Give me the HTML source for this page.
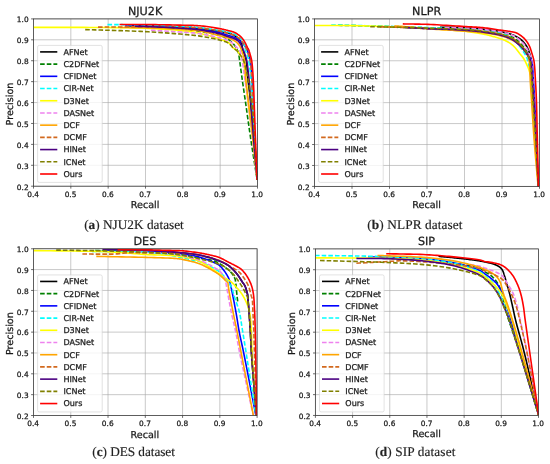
<!DOCTYPE html>
<html lang="en"><head><meta charset="utf-8"><title>PR curves</title>
<style>html,body{margin:0;padding:0;background:#fff}svg{display:block}
svg text{font-family:"DejaVu Sans","Liberation Sans",sans-serif;text-rendering:geometricPrecision;stroke:#1a1a1a;stroke-width:0.25px}
svg text.cap{font-family:"Liberation Serif","DejaVu Serif",serif;font-size:13.3px;fill:#222;stroke:#222;stroke-width:0.15px}
</style></head><body>
<svg width="550" height="464" viewBox="0 0 550 464">
<rect width="550" height="464" fill="#fff"/>
<g class="panel" id="panel-a">
<clipPath id="clip-a"><rect x="33.5" y="18.9" width="224" height="167.3"/></clipPath>
<path d="M33.5 18.9V186.2M70.83 18.9V186.2M108.17 18.9V186.2M145.5 18.9V186.2M182.83 18.9V186.2M220.17 18.9V186.2M257.5 18.9V186.2M33.5 18.9H257.5M33.5 39.81H257.5M33.5 60.72H257.5M33.5 81.64H257.5M33.5 102.55H257.5M33.5 123.46H257.5M33.5 144.38H257.5M33.5 165.29H257.5M33.5 186.2H257.5" stroke="#a4a4a4" stroke-width="0.6" fill="none"/>
<g clip-path="url(#clip-a)" fill="none" stroke-width="1.6" stroke-linejoin="round">
<path d="M128 25.6L129.4 25.61L130.76 25.63L132.09 25.63L133.42 25.64L134.74 25.65L136.08 25.66L137.44 25.67L138.84 25.69L140.28 25.7L141.78 25.73L143.35 25.76L145 25.8L147.68 25.87L150.61 25.96L153.75 26.06L157.04 26.17L160.44 26.29L163.89 26.42L167.34 26.55L170.74 26.7L174.04 26.84L177.18 26.99L180.12 27.15L182.8 27.3L184.47 27.4L186.04 27.5L187.55 27.6L188.99 27.71L190.39 27.81L191.76 27.92L193.1 28.03L194.44 28.15L195.79 28.27L197.15 28.4L198.55 28.55L200 28.7L201.6 28.88L203.26 29.07L204.96 29.27L206.67 29.48L208.4 29.71L210.12 29.93L211.82 30.16L213.47 30.4L215.08 30.63L216.61 30.86L218.05 31.08L219.4 31.3L220.25 31.44L221.06 31.57L221.84 31.7L222.59 31.83L223.32 31.96L224.03 32.09L224.72 32.22L225.39 32.36L226.05 32.5L226.71 32.66L227.35 32.82L228 33L228.55 33.16L229.09 33.32L229.62 33.49L230.14 33.66L230.65 33.84L231.15 34.02L231.65 34.21L232.14 34.41L232.61 34.62L233.08 34.83L233.55 35.06L234 35.3L234.42 35.53L234.83 35.77L235.24 36.02L235.64 36.27L236.03 36.53L236.42 36.8L236.79 37.08L237.16 37.36L237.51 37.66L237.86 37.96L238.19 38.28L238.5 38.6L238.79 38.92L239.07 39.25L239.34 39.58L239.6 39.92L239.85 40.28L240.08 40.64L240.31 41L240.53 41.38L240.73 41.77L240.93 42.17L241.12 42.58L241.3 43L241.49 43.52L241.66 44.08L241.8 44.66L241.93 45.26L242.04 45.88L242.15 46.5L242.25 47.13L242.34 47.74L242.44 48.35L242.55 48.93L242.67 49.48L242.8 50L242.91 50.37L243.02 50.72L243.13 51.06L243.25 51.38L243.36 51.7L243.48 52.01L243.6 52.32L243.72 52.63L243.84 52.95L243.96 53.29L244.08 53.63L244.2 54L244.36 54.49L244.53 54.97L244.7 55.47L244.88 55.97L245.05 56.48L245.23 57.01L245.4 57.56L245.58 58.13L245.74 58.73L245.9 59.35L246.06 60.01L246.2 60.7L246.42 61.95L246.6 63.32L246.77 64.8L246.92 66.37L247.06 68L247.19 69.69L247.31 71.42L247.43 73.17L247.56 74.91L247.69 76.65L247.84 78.35L248 80L248.18 81.63L248.37 83.23L248.56 84.8L248.76 86.37L248.96 87.94L249.17 89.52L249.37 91.13L249.58 92.77L249.79 94.47L250 96.24L250.2 98.07L250.4 100L250.69 102.97L250.97 106.13L251.25 109.46L251.53 112.93L251.81 116.51L252.09 120.17L252.38 123.87L252.66 127.58L252.94 131.29L253.22 134.94L253.51 138.52L253.8 142L254.08 145.23L254.36 148.44L254.64 151.63L254.92 154.81L255.21 157.97L255.49 161.12L255.78 164.26L256.06 167.4L256.35 170.54L256.63 173.69L256.92 176.84L257.2 180" stroke="#000000"/>
<path d="M130 27L131.23 27.01L132.42 27.02L133.59 27.03L134.75 27.04L135.91 27.05L137.08 27.05L138.27 27.07L139.5 27.08L140.77 27.1L142.11 27.12L143.51 27.16L145 27.2L147.6 27.28L150.48 27.37L153.59 27.47L156.88 27.58L160.28 27.71L163.75 27.85L167.23 28L170.66 28.17L173.99 28.35L177.16 28.55L180.11 28.77L182.8 29L184.47 29.17L186.05 29.34L187.56 29.53L189 29.72L190.4 29.92L191.77 30.12L193.11 30.33L194.45 30.55L195.79 30.78L197.16 31.01L198.55 31.25L200 31.5L201.6 31.77L203.27 32.04L204.97 32.32L206.69 32.6L208.42 32.89L210.15 33.19L211.84 33.5L213.5 33.83L215.1 34.17L216.63 34.53L218.07 34.9L219.4 35.3L220.26 35.58L221.09 35.87L221.89 36.17L222.66 36.47L223.41 36.78L224.12 37.1L224.82 37.43L225.49 37.76L226.14 38.11L226.78 38.46L227.4 38.82L228 39.2L228.49 39.52L228.96 39.85L229.42 40.19L229.87 40.53L230.29 40.88L230.71 41.23L231.12 41.6L231.51 41.96L231.89 42.34L232.27 42.72L232.64 43.11L233 43.5L233.34 43.89L233.67 44.28L234 44.69L234.31 45.1L234.62 45.52L234.91 45.95L235.2 46.37L235.48 46.8L235.75 47.23L236.01 47.66L236.26 48.08L236.5 48.5L236.71 48.88L236.91 49.25L237.11 49.63L237.3 50.01L237.48 50.4L237.66 50.78L237.82 51.15L237.98 51.53L238.12 51.9L238.26 52.27L238.39 52.64L238.5 53L238.59 53.3L238.66 53.6L238.72 53.9L238.77 54.19L238.82 54.48L238.86 54.77L238.9 55.06L238.94 55.34L238.97 55.63L239.01 55.92L239.05 56.21L239.1 56.5L239.37 58.46L239.63 60.44L239.9 62.42L240.17 64.4L240.44 66.39L240.7 68.37L240.97 70.34L241.24 72.31L241.5 74.26L241.77 76.19L242.04 78.11L242.3 80L242.54 81.7L242.77 83.34L243 84.94L243.23 86.52L243.46 88.08L243.69 89.64L243.92 91.23L244.16 92.85L244.4 94.52L244.66 96.26L244.92 98.08L245.2 100L245.62 102.97L246.07 106.13L246.54 109.47L247.03 112.94L247.53 116.52L248.05 120.17L248.57 123.87L249.1 127.59L249.63 131.29L250.16 134.95L250.68 138.53L251.2 142L251.69 145.23L252.18 148.45L252.68 151.64L253.18 154.81L253.68 157.97L254.18 161.12L254.69 164.27L255.19 167.41L255.69 170.55L256.2 173.69L256.7 176.84L257.2 180" stroke="#008000" stroke-dasharray="4.6 2.05"/>
<path d="M125 26L126.65 26.02L128.26 26.04L129.85 26.06L131.43 26.08L133.01 26.09L134.61 26.11L136.22 26.13L137.87 26.15L139.56 26.18L141.3 26.21L143.11 26.25L145 26.3L147.78 26.38L150.78 26.46L153.96 26.56L157.26 26.66L160.65 26.77L164.08 26.9L167.49 27.03L170.85 27.16L174.11 27.31L177.22 27.47L180.13 27.63L182.8 27.8L184.47 27.92L186.05 28.04L187.55 28.15L189 28.28L190.4 28.4L191.76 28.53L193.11 28.67L194.45 28.81L195.79 28.97L197.16 29.13L198.55 29.31L200 29.5L201.6 29.72L203.26 29.96L204.96 30.21L206.68 30.47L208.41 30.74L210.13 31.02L211.83 31.31L213.48 31.61L215.08 31.9L216.61 32.2L218.06 32.5L219.4 32.8L220.25 33L221.06 33.21L221.84 33.41L222.59 33.62L223.32 33.83L224.03 34.04L224.71 34.26L225.38 34.47L226.05 34.68L226.7 34.89L227.35 35.1L228 35.3L228.54 35.47L229.08 35.63L229.6 35.79L230.12 35.95L230.63 36.1L231.13 36.26L231.62 36.42L232.11 36.58L232.59 36.75L233.07 36.92L233.54 37.11L234 37.3L234.42 37.48L234.84 37.67L235.24 37.85L235.65 38.04L236.05 38.24L236.44 38.44L236.83 38.65L237.21 38.86L237.59 39.08L237.96 39.31L238.33 39.55L238.7 39.8L239.07 40.07L239.44 40.35L239.8 40.64L240.16 40.94L240.51 41.25L240.86 41.57L241.2 41.89L241.54 42.21L241.86 42.53L242.19 42.86L242.5 43.18L242.8 43.5L243.07 43.79L243.33 44.07L243.58 44.37L243.83 44.66L244.08 44.95L244.32 45.24L244.55 45.54L244.77 45.83L244.99 46.13L245.2 46.42L245.41 46.71L245.6 47L245.76 47.25L245.92 47.5L246.06 47.74L246.21 47.98L246.34 48.22L246.47 48.47L246.6 48.71L246.73 48.96L246.85 49.21L246.97 49.47L247.08 49.73L247.2 50L247.33 50.31L247.44 50.61L247.56 50.93L247.67 51.24L247.77 51.56L247.87 51.89L247.97 52.22L248.07 52.56L248.18 52.91L248.28 53.26L248.39 53.63L248.5 54L248.65 54.49L248.81 54.97L248.97 55.47L249.14 55.97L249.31 56.48L249.48 57.01L249.65 57.56L249.81 58.13L249.97 58.73L250.12 59.35L250.27 60.01L250.4 60.7L250.6 61.95L250.78 63.32L250.94 64.8L251.08 66.37L251.2 68L251.32 69.69L251.42 71.42L251.52 73.16L251.62 74.91L251.71 76.64L251.8 78.35L251.9 80L252 81.63L252.08 83.23L252.16 84.8L252.23 86.37L252.3 87.94L252.36 89.52L252.43 91.13L252.49 92.78L252.56 94.48L252.63 96.24L252.71 98.08L252.8 100L252.94 102.97L253.09 106.13L253.25 109.47L253.42 112.94L253.59 116.52L253.77 120.17L253.95 123.87L254.14 127.59L254.33 131.29L254.52 134.94L254.71 138.52L254.9 142L255.08 145.23L255.27 148.44L255.45 151.63L255.64 154.81L255.84 157.97L256.03 161.12L256.23 164.26L256.42 167.4L256.62 170.54L256.81 173.69L257.01 176.84L257.2 180" stroke="#0000ff"/>
<path d="M107.5 24.6L108.95 24.61L110.4 24.61L111.85 24.62L113.29 24.62L114.73 24.63L116.18 24.63L117.63 24.64L119.08 24.65L120.54 24.66L122.02 24.67L123.5 24.68L125 24.7L126.6 24.72L128.18 24.74L129.76 24.77L131.33 24.79L132.92 24.82L134.52 24.85L136.15 24.89L137.82 24.92L139.53 24.96L141.29 25L143.11 25.05L145 25.1L147.78 25.18L150.78 25.26L153.96 25.35L157.26 25.45L160.65 25.55L164.07 25.66L167.49 25.77L170.85 25.89L174.11 26.01L177.21 26.14L180.13 26.27L182.8 26.4L184.47 26.49L186.04 26.57L187.55 26.65L188.99 26.73L190.39 26.81L191.76 26.9L193.1 26.99L194.44 27.09L195.79 27.2L197.16 27.32L198.55 27.45L200 27.6L201.6 27.78L203.26 27.98L204.96 28.2L206.68 28.43L208.4 28.67L210.12 28.92L211.82 29.18L213.47 29.43L215.08 29.68L216.61 29.93L218.05 30.17L219.4 30.4L220.24 30.54L221.05 30.68L221.83 30.82L222.58 30.95L223.3 31.08L224 31.21L224.69 31.34L225.36 31.48L226.03 31.62L226.68 31.77L227.34 31.93L228 32.1L228.58 32.26L229.15 32.41L229.72 32.57L230.28 32.73L230.83 32.89L231.37 33.06L231.91 33.24L232.44 33.43L232.96 33.62L233.48 33.83L233.99 34.06L234.5 34.3L234.99 34.55L235.49 34.81L235.98 35.09L236.46 35.38L236.94 35.67L237.42 35.98L237.88 36.3L238.33 36.62L238.77 36.96L239.2 37.3L239.61 37.64L240 38L240.35 38.33L240.69 38.67L241.03 39.01L241.35 39.36L241.66 39.71L241.96 40.07L242.25 40.45L242.52 40.83L242.79 41.22L243.04 41.63L243.28 42.06L243.5 42.5L243.73 43.05L243.94 43.64L244.12 44.26L244.27 44.91L244.41 45.58L244.54 46.25L244.66 46.92L244.77 47.59L244.89 48.24L245.01 48.86L245.15 49.45L245.3 50L245.42 50.38L245.54 50.73L245.67 51.07L245.79 51.39L245.92 51.71L246.04 52.02L246.17 52.32L246.3 52.64L246.42 52.95L246.55 53.29L246.67 53.63L246.8 54L246.96 54.48L247.12 54.97L247.28 55.46L247.45 55.97L247.61 56.48L247.77 57.01L247.93 57.56L248.09 58.13L248.25 58.73L248.4 59.35L248.55 60.01L248.7 60.7L248.94 61.95L249.17 63.33L249.39 64.8L249.61 66.37L249.82 68L250.02 69.69L250.21 71.42L250.4 73.16L250.59 74.91L250.76 76.64L250.94 78.35L251.1 80L251.26 81.63L251.4 83.22L251.54 84.8L251.67 86.36L251.79 87.93L251.91 89.52L252.02 91.12L252.13 92.77L252.25 94.47L252.36 96.24L252.48 98.07L252.6 100L252.78 102.97L252.96 106.13L253.14 109.47L253.32 112.94L253.5 116.51L253.68 120.17L253.86 123.87L254.04 127.59L254.23 131.29L254.41 134.94L254.6 138.52L254.8 142L254.99 145.23L255.18 148.44L255.38 151.63L255.58 154.81L255.78 157.97L255.98 161.12L256.18 164.26L256.39 167.4L256.59 170.54L256.8 173.69L257 176.84L257.2 180" stroke="#00ffff" stroke-dasharray="4.6 2.05"/>
<path d="M33 27.4L38.63 27.41L44.32 27.41L50.06 27.41L55.83 27.4L61.59 27.4L67.33 27.4L73.03 27.4L78.65 27.41L84.18 27.42L89.6 27.44L94.88 27.46L100 27.5L104.08 27.53L108.06 27.56L111.97 27.58L115.81 27.61L119.58 27.64L123.31 27.68L126.98 27.72L130.62 27.78L134.24 27.86L137.83 27.95L141.42 28.06L145 28.2L148.31 28.35L151.66 28.51L155.03 28.68L158.4 28.87L161.74 29.08L165.03 29.29L168.27 29.52L171.42 29.75L174.47 30L177.4 30.26L180.18 30.53L182.8 30.8L184.47 30.98L186.05 31.17L187.56 31.34L189.01 31.52L190.41 31.71L191.78 31.9L193.12 32.11L194.46 32.32L195.8 32.56L197.17 32.81L198.56 33.09L200 33.4L201.61 33.77L203.27 34.18L204.97 34.62L206.69 35.08L208.42 35.57L210.14 36.07L211.84 36.58L213.49 37.09L215.09 37.59L216.62 38.08L218.06 38.55L219.4 39L220.26 39.29L221.11 39.57L221.94 39.84L222.74 40.11L223.52 40.38L224.27 40.65L224.99 40.91L225.68 41.18L226.33 41.45L226.93 41.73L227.49 42.01L228 42.3L228.28 42.48L228.54 42.65L228.78 42.83L229 43L229.21 43.18L229.41 43.36L229.6 43.54L229.78 43.72L229.96 43.91L230.14 44.1L230.32 44.3L230.5 44.5L230.68 44.71L230.85 44.94L231.01 45.17L231.16 45.4L231.3 45.64L231.45 45.89L231.6 46.13L231.76 46.37L231.92 46.61L232.1 46.85L232.29 47.08L232.5 47.3L232.79 47.56L233.12 47.82L233.47 48.06L233.84 48.3L234.22 48.54L234.61 48.77L235.01 49.01L235.4 49.25L235.78 49.49L236.14 49.75L236.49 50.02L236.8 50.3L237.07 50.57L237.32 50.85L237.56 51.13L237.79 51.42L238.01 51.71L238.22 52.02L238.43 52.32L238.64 52.64L238.84 52.96L239.06 53.3L239.27 53.64L239.5 54L239.81 54.47L240.12 54.94L240.45 55.43L240.78 55.92L241.11 56.43L241.44 56.95L241.77 57.5L242.09 58.08L242.39 58.68L242.68 59.32L242.95 59.99L243.2 60.7L243.55 61.94L243.84 63.3L244.09 64.77L244.3 66.34L244.47 67.97L244.63 69.67L244.77 71.4L244.9 73.15L245.03 74.9L245.17 76.64L245.32 78.35L245.5 80L245.69 81.63L245.87 83.23L246.05 84.8L246.23 86.37L246.41 87.94L246.59 89.52L246.77 91.13L246.96 92.78L247.15 94.48L247.36 96.24L247.57 98.08L247.8 100L248.16 102.97L248.55 106.13L248.96 109.47L249.4 112.94L249.85 116.51L250.31 120.17L250.78 123.87L251.24 127.58L251.7 131.28L252.15 134.94L252.59 138.52L253 142L253.38 145.23L253.74 148.44L254.1 151.63L254.45 154.81L254.8 157.97L255.15 161.12L255.49 164.26L255.83 167.4L256.17 170.54L256.51 173.69L256.85 176.84L257.2 180" stroke="#ffff00"/>
<path d="M151 30.2L153.68 30.37L156.41 30.53L159.18 30.7L161.96 30.87L164.74 31.03L167.51 31.2L170.24 31.36L172.92 31.53L175.53 31.7L178.06 31.86L180.49 32.03L182.8 32.2L184.41 32.32L185.96 32.42L187.45 32.52L188.89 32.62L190.3 32.71L191.67 32.81L193.04 32.91L194.4 33.03L195.76 33.17L197.14 33.32L198.55 33.5L200 33.7L201.61 33.95L203.27 34.24L204.97 34.55L206.69 34.88L208.41 35.23L210.13 35.6L211.83 35.97L213.48 36.35L215.08 36.72L216.61 37.09L218.06 37.45L219.4 37.8L220.26 38.03L221.09 38.25L221.9 38.47L222.68 38.69L223.44 38.91L224.18 39.13L224.89 39.35L225.57 39.58L226.22 39.8L226.84 40.03L227.44 40.26L228 40.5L228.36 40.66L228.69 40.82L229.01 40.97L229.32 41.13L229.61 41.28L229.9 41.44L230.17 41.6L230.44 41.77L230.7 41.94L230.97 42.12L231.23 42.31L231.5 42.5L231.77 42.71L232.03 42.92L232.29 43.15L232.54 43.38L232.79 43.61L233.03 43.86L233.28 44.1L233.52 44.34L233.76 44.59L234 44.83L234.25 45.07L234.5 45.3L234.75 45.53L235 45.75L235.26 45.98L235.52 46.2L235.77 46.43L236.03 46.65L236.29 46.88L236.54 47.1L236.79 47.32L237.03 47.55L237.27 47.77L237.5 48L237.71 48.2L237.92 48.41L238.13 48.6L238.34 48.8L238.55 49L238.75 49.2L238.94 49.4L239.13 49.6L239.31 49.82L239.49 50.03L239.65 50.26L239.8 50.5L239.94 50.76L240.07 51.02L240.19 51.28L240.3 51.55L240.4 51.83L240.49 52.12L240.58 52.41L240.66 52.71L240.74 53.02L240.83 53.34L240.91 53.66L241 54L241.12 54.47L241.24 54.95L241.35 55.44L241.45 55.94L241.56 56.45L241.66 56.99L241.76 57.55L241.86 58.12L241.97 58.73L242.07 59.35L242.19 60.01L242.3 60.7L242.5 61.96L242.71 63.33L242.93 64.81L243.15 66.38L243.38 68.01L243.61 69.7L243.84 71.43L244.07 73.17L244.31 74.92L244.54 76.65L244.77 78.35L245 80L245.23 81.63L245.46 83.23L245.68 84.8L245.91 86.37L246.13 87.94L246.36 89.52L246.58 91.13L246.82 92.77L247.05 94.47L247.3 96.24L247.54 98.07L247.8 100L248.19 102.97L248.6 106.13L249.02 109.46L249.46 112.93L249.91 116.51L250.37 120.16L250.82 123.87L251.28 127.58L251.72 131.28L252.16 134.94L252.59 138.52L253 142L253.38 145.23L253.74 148.44L254.1 151.63L254.45 154.81L254.8 157.97L255.15 161.12L255.49 164.26L255.83 167.4L256.17 170.54L256.51 173.69L256.85 176.84L257.2 180" stroke="#ee82ee" stroke-dasharray="4.6 2.05"/>
<path d="M120 27.5L122.07 27.52L124.11 27.54L126.13 27.55L128.14 27.56L130.16 27.58L132.18 27.59L134.22 27.61L136.29 27.63L138.39 27.66L140.54 27.69L142.74 27.74L145 27.8L147.92 27.89L151.02 27.99L154.25 28.11L157.57 28.23L160.94 28.37L164.33 28.52L167.7 28.67L171 28.83L174.2 29L177.26 29.16L180.14 29.33L182.8 29.5L184.47 29.61L186.05 29.7L187.55 29.79L189 29.88L190.4 29.97L191.77 30.06L193.12 30.17L194.45 30.29L195.8 30.43L197.16 30.59L198.56 30.78L200 31L201.61 31.28L203.27 31.6L204.97 31.96L206.69 32.36L208.41 32.77L210.13 33.19L211.82 33.63L213.48 34.05L215.08 34.48L216.61 34.88L218.05 35.26L219.4 35.6L220.25 35.81L221.07 36.02L221.86 36.21L222.63 36.41L223.38 36.59L224.1 36.78L224.8 36.96L225.48 37.14L226.13 37.33L226.77 37.51L227.4 37.7L228 37.9L228.43 38.04L228.85 38.19L229.25 38.33L229.64 38.47L230.01 38.61L230.38 38.75L230.74 38.89L231.1 39.04L231.45 39.19L231.8 39.35L232.15 39.52L232.5 39.7L232.84 39.88L233.19 40.06L233.53 40.25L233.86 40.44L234.2 40.64L234.53 40.84L234.85 41.05L235.17 41.26L235.49 41.49L235.8 41.72L236.1 41.95L236.4 42.2L236.7 42.46L236.99 42.73L237.28 43.01L237.57 43.3L237.85 43.59L238.13 43.89L238.4 44.2L238.66 44.51L238.91 44.83L239.15 45.15L239.38 45.47L239.6 45.8L239.8 46.13L239.99 46.46L240.17 46.8L240.34 47.15L240.5 47.5L240.65 47.86L240.8 48.22L240.95 48.58L241.09 48.94L241.22 49.29L241.36 49.65L241.5 50L241.63 50.33L241.76 50.66L241.88 50.98L242 51.29L242.12 51.61L242.23 51.93L242.34 52.26L242.45 52.59L242.56 52.92L242.67 53.27L242.79 53.63L242.9 54L243.05 54.48L243.2 54.97L243.35 55.46L243.5 55.97L243.65 56.48L243.8 57.01L243.95 57.56L244.09 58.13L244.23 58.73L244.36 59.35L244.48 60.01L244.6 60.7L244.77 61.95L244.92 63.33L245.04 64.81L245.14 66.37L245.23 68.01L245.31 69.7L245.39 71.42L245.47 73.17L245.55 74.92L245.65 76.65L245.76 78.35L245.9 80L246.05 81.63L246.21 83.23L246.38 84.81L246.56 86.37L246.74 87.94L246.93 89.52L247.12 91.13L247.32 92.78L247.53 94.48L247.75 96.24L247.97 98.08L248.2 100L248.56 102.97L248.94 106.13L249.35 109.47L249.78 112.94L250.23 116.51L250.68 120.17L251.14 123.87L251.6 127.58L252.05 131.28L252.48 134.94L252.9 138.52L253.3 142L253.66 145.23L254 148.44L254.34 151.63L254.67 154.8L254.99 157.97L255.31 161.12L255.62 164.26L255.93 167.4L256.25 170.54L256.56 173.69L256.88 176.84L257.2 180" stroke="#ffa500"/>
<path d="M98 27.1L101.93 27.08L105.89 27.06L109.87 27.04L113.86 27.01L117.84 26.99L121.82 26.96L125.78 26.94L129.71 26.92L133.61 26.91L137.46 26.9L141.26 26.9L145 26.9L148.34 26.91L151.71 26.91L155.08 26.91L158.45 26.92L161.79 26.93L165.08 26.94L168.3 26.96L171.44 26.99L174.48 27.03L177.4 27.07L180.18 27.13L182.8 27.2L184.46 27.25L186.04 27.3L187.55 27.35L188.99 27.4L190.39 27.45L191.76 27.51L193.11 27.58L194.44 27.66L195.79 27.74L197.16 27.85L198.55 27.96L200 28.1L201.6 28.26L203.26 28.44L204.96 28.64L206.68 28.85L208.41 29.07L210.13 29.3L211.83 29.55L213.48 29.8L215.09 30.07L216.62 30.34L218.06 30.62L219.4 30.9L220.25 31.1L221.06 31.3L221.84 31.52L222.58 31.74L223.3 31.96L224 32.18L224.69 32.41L225.36 32.64L226.02 32.86L226.68 33.08L227.34 33.29L228 33.5L228.58 33.67L229.15 33.83L229.72 33.98L230.28 34.13L230.83 34.27L231.38 34.42L231.92 34.57L232.46 34.73L232.98 34.9L233.5 35.08L234 35.28L234.5 35.5L234.96 35.72L235.41 35.96L235.85 36.2L236.29 36.45L236.72 36.72L237.14 36.99L237.56 37.27L237.96 37.56L238.36 37.86L238.75 38.16L239.13 38.48L239.5 38.8L239.85 39.13L240.2 39.47L240.54 39.82L240.86 40.18L241.18 40.56L241.5 40.93L241.8 41.31L242.1 41.7L242.38 42.08L242.66 42.46L242.94 42.83L243.2 43.2L243.42 43.52L243.64 43.84L243.85 44.16L244.06 44.49L244.25 44.81L244.44 45.13L244.63 45.45L244.81 45.76L244.99 46.08L245.16 46.39L245.33 46.7L245.5 47L245.64 47.26L245.78 47.51L245.92 47.76L246.05 48L246.17 48.24L246.3 48.48L246.42 48.73L246.54 48.97L246.66 49.22L246.77 49.47L246.89 49.73L247 50L247.12 50.31L247.24 50.62L247.35 50.93L247.46 51.24L247.56 51.57L247.67 51.89L247.77 52.22L247.87 52.56L247.97 52.91L248.08 53.26L248.19 53.63L248.3 54L248.45 54.49L248.61 54.97L248.77 55.47L248.94 55.97L249.11 56.48L249.28 57.01L249.45 57.56L249.61 58.13L249.77 58.73L249.92 59.35L250.07 60.01L250.2 60.7L250.4 61.95L250.59 63.32L250.75 64.8L250.9 66.37L251.04 68L251.17 69.69L251.28 71.42L251.39 73.16L251.5 74.91L251.6 76.64L251.7 78.35L251.8 80L251.9 81.63L251.99 83.23L252.07 84.8L252.14 86.37L252.2 87.94L252.27 89.52L252.33 91.13L252.39 92.78L252.46 94.48L252.53 96.24L252.61 98.08L252.7 100L252.84 102.97L252.99 106.13L253.15 109.47L253.31 112.94L253.49 116.52L253.66 120.17L253.85 123.87L254.03 127.59L254.22 131.29L254.41 134.94L254.61 138.53L254.8 142L254.99 145.23L255.18 148.44L255.37 151.63L255.57 154.81L255.77 157.97L255.98 161.12L256.18 164.26L256.39 167.4L256.59 170.54L256.8 173.69L257 176.84L257.2 180" stroke="#d2691e" stroke-dasharray="4.6 2.05"/>
<path d="M135 26.3L135.81 26.31L136.59 26.33L137.35 26.34L138.1 26.35L138.84 26.36L139.6 26.37L140.38 26.38L141.19 26.39L142.05 26.41L142.96 26.44L143.94 26.46L145 26.5L147.35 26.59L150.07 26.69L153.09 26.82L156.35 26.96L159.78 27.12L163.31 27.29L166.87 27.47L170.39 27.65L173.82 27.84L177.07 28.03L180.09 28.22L182.8 28.4L184.47 28.52L186.05 28.63L187.55 28.74L189 28.84L190.4 28.95L191.76 29.07L193.11 29.19L194.45 29.32L195.79 29.46L197.16 29.62L198.56 29.8L200 30L201.61 30.24L203.27 30.5L204.96 30.79L206.69 31.09L208.41 31.41L210.13 31.74L211.83 32.08L213.49 32.42L215.09 32.77L216.62 33.12L218.06 33.46L219.4 33.8L220.25 34.03L221.07 34.26L221.85 34.5L222.61 34.74L223.34 34.98L224.05 35.23L224.74 35.47L225.41 35.71L226.07 35.94L226.72 36.17L227.36 36.39L228 36.6L228.5 36.76L229 36.91L229.48 37.06L229.96 37.2L230.43 37.34L230.88 37.48L231.34 37.62L231.78 37.76L232.22 37.91L232.65 38.06L233.08 38.22L233.5 38.4L233.88 38.56L234.26 38.73L234.63 38.9L235 39.07L235.36 39.24L235.72 39.42L236.07 39.61L236.41 39.8L236.75 40.01L237.07 40.23L237.39 40.46L237.7 40.7L238 40.96L238.29 41.23L238.58 41.52L238.85 41.82L239.11 42.12L239.37 42.44L239.62 42.76L239.87 43.1L240.11 43.44L240.34 43.79L240.57 44.14L240.8 44.5L241.05 44.91L241.28 45.35L241.51 45.8L241.74 46.26L241.95 46.74L242.16 47.22L242.36 47.7L242.56 48.18L242.75 48.65L242.94 49.11L243.12 49.57L243.3 50L243.44 50.35L243.58 50.69L243.71 51.01L243.84 51.34L243.96 51.65L244.09 51.97L244.2 52.28L244.32 52.61L244.44 52.94L244.56 53.28L244.68 53.63L244.8 54L244.96 54.48L245.12 54.97L245.28 55.46L245.45 55.97L245.61 56.48L245.77 57.01L245.93 57.56L246.09 58.13L246.25 58.73L246.4 59.35L246.55 60.01L246.7 60.7L246.94 61.95L247.17 63.33L247.39 64.8L247.61 66.37L247.82 68L248.02 69.69L248.21 71.42L248.4 73.16L248.59 74.91L248.76 76.64L248.94 78.35L249.1 80L249.26 81.63L249.4 83.23L249.53 84.8L249.65 86.37L249.76 87.93L249.87 89.52L249.98 91.13L250.09 92.78L250.21 94.47L250.33 96.24L250.46 98.08L250.6 100L250.82 102.97L251.06 106.13L251.31 109.47L251.56 112.94L251.83 116.52L252.1 120.17L252.38 123.87L252.66 127.59L252.94 131.29L253.23 134.94L253.52 138.53L253.8 142L254.07 145.23L254.35 148.44L254.63 151.64L254.91 154.81L255.19 157.97L255.48 161.12L255.77 164.26L256.05 167.4L256.34 170.55L256.63 173.69L256.92 176.84L257.2 180" stroke="#4b0082"/>
<path d="M85.2 29.6L90.23 29.76L95.33 29.92L100.47 30.06L105.64 30.21L110.81 30.35L115.96 30.5L121.05 30.66L126.08 30.82L131.01 30.99L135.83 31.18L140.5 31.38L145 31.6L148.5 31.79L151.97 31.99L155.41 32.21L158.79 32.43L162.11 32.66L165.36 32.89L168.53 33.13L171.61 33.37L174.59 33.6L177.45 33.84L180.19 34.07L182.8 34.3L184.47 34.44L186.05 34.58L187.55 34.71L189 34.84L190.4 34.96L191.76 35.09L193.11 35.22L194.45 35.37L195.79 35.53L197.16 35.7L198.56 35.89L200 36.1L201.61 36.35L203.27 36.63L204.96 36.92L206.69 37.23L208.41 37.56L210.13 37.89L211.83 38.24L213.49 38.59L215.09 38.95L216.62 39.3L218.06 39.65L219.4 40L220.26 40.23L221.1 40.46L221.92 40.69L222.72 40.92L223.49 41.15L224.23 41.38L224.94 41.61L225.63 41.85L226.28 42.1L226.89 42.36L227.46 42.62L228 42.9L228.32 43.08L228.62 43.27L228.91 43.46L229.17 43.65L229.42 43.85L229.66 44.04L229.89 44.24L230.11 44.45L230.33 44.65L230.55 44.87L230.77 45.08L231 45.3L231.22 45.53L231.44 45.76L231.65 46L231.85 46.25L232.05 46.5L232.24 46.76L232.44 47.01L232.64 47.26L232.85 47.51L233.06 47.75L233.27 47.98L233.5 48.2L233.74 48.41L233.99 48.61L234.24 48.8L234.5 48.98L234.77 49.16L235.03 49.33L235.3 49.51L235.57 49.69L235.83 49.88L236.1 50.07L236.35 50.28L236.6 50.5L236.86 50.75L237.12 51.01L237.38 51.27L237.63 51.54L237.88 51.81L238.12 52.1L238.37 52.39L238.61 52.69L238.85 53L239.1 53.32L239.35 53.65L239.6 54L239.93 54.46L240.27 54.93L240.61 55.41L240.96 55.9L241.3 56.41L241.65 56.94L241.99 57.49L242.33 58.07L242.66 58.68L242.98 59.31L243.3 59.99L243.6 60.7L244.07 61.95L244.52 63.34L244.96 64.85L245.38 66.46L245.79 68.14L246.18 69.87L246.56 71.63L246.92 73.39L247.26 75.13L247.59 76.83L247.9 78.46L248.2 80L248.43 81.23L248.64 82.41L248.83 83.55L249.01 84.66L249.18 85.76L249.34 86.86L249.49 87.97L249.64 89.09L249.8 90.24L249.96 91.44L250.12 92.69L250.3 94L250.56 95.88L250.83 97.85L251.11 99.89L251.39 102L251.68 104.17L251.97 106.38L252.25 108.62L252.53 110.89L252.79 113.18L253.05 115.46L253.28 117.74L253.5 120L253.71 122.42L253.9 124.87L254.07 127.34L254.22 129.84L254.36 132.34L254.5 134.86L254.63 137.39L254.75 139.92L254.88 142.45L255.01 144.97L255.15 147.49L255.3 150L255.45 152.5L255.61 155L255.77 157.5L255.93 160L256.08 162.5L256.24 165L256.4 167.5L256.56 170L256.72 172.5L256.88 175L257.04 177.5L257.2 180" stroke="#808000" stroke-dasharray="4.6 2.05"/>
<path d="M119.5 24.5L122.04 24.51L124.57 24.51L127.1 24.51L129.63 24.52L132.15 24.52L134.68 24.52L137.21 24.53L139.75 24.53L142.3 24.54L144.85 24.56L147.42 24.58L150 24.6L152.73 24.63L155.52 24.67L158.36 24.71L161.23 24.75L164.11 24.8L166.98 24.85L169.82 24.91L172.6 24.96L175.31 25.02L177.93 25.08L180.43 25.14L182.8 25.2L184.42 25.24L185.97 25.27L187.47 25.29L188.91 25.32L190.31 25.34L191.69 25.37L193.05 25.4L194.4 25.45L195.76 25.51L197.14 25.59L198.55 25.68L200 25.8L201.6 25.96L203.26 26.14L204.96 26.34L206.68 26.57L208.41 26.81L210.12 27.06L211.82 27.32L213.48 27.58L215.08 27.84L216.61 28.11L218.06 28.36L219.4 28.6L220.24 28.76L221.05 28.91L221.83 29.07L222.58 29.22L223.3 29.38L224 29.53L224.69 29.69L225.36 29.84L226.02 30L226.68 30.17L227.34 30.33L228 30.5L228.58 30.65L229.17 30.8L229.75 30.94L230.33 31.09L230.9 31.24L231.47 31.39L232.02 31.54L232.56 31.7L233.07 31.87L233.57 32.04L234.05 32.21L234.5 32.4L234.82 32.54L235.11 32.69L235.4 32.83L235.67 32.98L235.94 33.14L236.19 33.29L236.45 33.45L236.69 33.62L236.94 33.78L237.19 33.95L237.44 34.12L237.7 34.3L237.97 34.49L238.25 34.67L238.52 34.86L238.79 35.05L239.06 35.25L239.33 35.45L239.6 35.65L239.86 35.86L240.13 36.08L240.39 36.31L240.64 36.55L240.9 36.8L241.19 37.1L241.48 37.42L241.77 37.74L242.05 38.08L242.33 38.43L242.6 38.79L242.88 39.15L243.15 39.53L243.42 39.91L243.68 40.3L243.94 40.7L244.2 41.1L244.49 41.58L244.78 42.08L245.07 42.61L245.36 43.16L245.64 43.71L245.92 44.27L246.19 44.83L246.45 45.37L246.7 45.9L246.95 46.4L247.18 46.87L247.4 47.3L247.54 47.56L247.67 47.81L247.8 48.04L247.92 48.26L248.04 48.47L248.16 48.68L248.27 48.88L248.38 49.09L248.49 49.3L248.59 49.52L248.7 49.76L248.8 50L248.92 50.3L249.03 50.6L249.13 50.91L249.23 51.23L249.33 51.55L249.42 51.88L249.52 52.21L249.61 52.55L249.7 52.9L249.8 53.26L249.9 53.63L250 54L250.14 54.49L250.28 54.97L250.43 55.47L250.57 55.97L250.72 56.48L250.87 57.01L251.02 57.56L251.17 58.13L251.31 58.73L251.45 59.35L251.58 60.01L251.7 60.7L251.89 61.95L252.07 63.33L252.23 64.8L252.38 66.37L252.52 68.01L252.65 69.69L252.77 71.42L252.88 73.16L252.99 74.91L253.1 76.64L253.2 78.35L253.3 80L253.4 81.63L253.48 83.23L253.55 84.8L253.62 86.37L253.68 87.93L253.74 89.52L253.8 91.13L253.85 92.78L253.91 94.48L253.97 96.24L254.03 98.08L254.1 100L254.21 102.97L254.32 106.13L254.44 109.47L254.56 112.94L254.69 116.51L254.81 120.17L254.94 123.87L255.07 127.59L255.2 131.29L255.33 134.94L255.47 138.52L255.6 142L255.73 145.23L255.86 148.44L255.99 151.63L256.12 154.81L256.25 157.97L256.39 161.12L256.52 164.26L256.66 167.4L256.8 170.54L256.93 173.69L257.07 176.84L257.2 180" stroke="#ff0000"/>
</g>
<rect x="37.6" y="45.4" width="64.6" height="137.0" rx="1.6" fill="#fff" fill-opacity="0.8" stroke="#d2d2d2" stroke-opacity="0.8" stroke-width="0.8"/>
<g font-size="8.05px" fill="#1a1a1a">
<path d="M40.1 51.9h17.2" stroke="#000000" stroke-width="1.6"/>
<text x="63.4" y="54.8">AFNet</text>
<path d="M40.1 64.11h17.2" stroke="#008000" stroke-width="1.6" stroke-dasharray="4.6 2.05"/>
<text x="63.4" y="67.01">C2DFNet</text>
<path d="M40.1 76.32h17.2" stroke="#0000ff" stroke-width="1.6"/>
<text x="63.4" y="79.22">CFIDNet</text>
<path d="M40.1 88.53h17.2" stroke="#00ffff" stroke-width="1.6" stroke-dasharray="4.6 2.05"/>
<text x="63.4" y="91.43">CIR-Net</text>
<path d="M40.1 100.74h17.2" stroke="#ffff00" stroke-width="1.6"/>
<text x="63.4" y="103.64">D3Net</text>
<path d="M40.1 112.95h17.2" stroke="#ee82ee" stroke-width="1.6" stroke-dasharray="4.6 2.05"/>
<text x="63.4" y="115.85">DASNet</text>
<path d="M40.1 125.16h17.2" stroke="#ffa500" stroke-width="1.6"/>
<text x="63.4" y="128.06">DCF</text>
<path d="M40.1 137.37h17.2" stroke="#d2691e" stroke-width="1.6" stroke-dasharray="4.6 2.05"/>
<text x="63.4" y="140.27">DCMF</text>
<path d="M40.1 149.58h17.2" stroke="#4b0082" stroke-width="1.6"/>
<text x="63.4" y="152.48">HINet</text>
<path d="M40.1 161.79h17.2" stroke="#808000" stroke-width="1.6" stroke-dasharray="4.6 2.05"/>
<text x="63.4" y="164.69">ICNet</text>
<path d="M40.1 174h17.2" stroke="#ff0000" stroke-width="1.6"/>
<text x="63.4" y="176.9">Ours</text>
</g>
<rect x="33.5" y="18.9" width="224" height="167.3" fill="none" stroke="#3a3a3a" stroke-width="0.75"/>
<path d="M33.5 186.2v2.4M70.83 186.2v2.4M108.17 186.2v2.4M145.5 186.2v2.4M182.83 186.2v2.4M220.17 186.2v2.4M257.5 186.2v2.4M33.5 18.9h-2.4M33.5 39.81h-2.4M33.5 60.72h-2.4M33.5 81.64h-2.4M33.5 102.55h-2.4M33.5 123.46h-2.4M33.5 144.38h-2.4M33.5 165.29h-2.4M33.5 186.2h-2.4" stroke="#3a3a3a" stroke-width="0.75" fill="none"/>
<g font-size="7.4px" fill="#1a1a1a">
<text x="33.2" y="196.8" text-anchor="middle">0.4</text>
<text x="70.53" y="196.8" text-anchor="middle">0.5</text>
<text x="107.87" y="196.8" text-anchor="middle">0.6</text>
<text x="145.2" y="196.8" text-anchor="middle">0.7</text>
<text x="182.53" y="196.8" text-anchor="middle">0.8</text>
<text x="219.87" y="196.8" text-anchor="middle">0.9</text>
<text x="257.2" y="196.8" text-anchor="middle">1.0</text>
<text x="28.6" y="22.2" text-anchor="end">1.0</text>
<text x="28.6" y="43.11" text-anchor="end">0.9</text>
<text x="28.6" y="64.02" text-anchor="end">0.8</text>
<text x="28.6" y="84.94" text-anchor="end">0.7</text>
<text x="28.6" y="105.85" text-anchor="end">0.6</text>
<text x="28.6" y="126.76" text-anchor="end">0.5</text>
<text x="28.6" y="147.68" text-anchor="end">0.4</text>
<text x="28.6" y="168.59" text-anchor="end">0.3</text>
<text x="28.6" y="189.5" text-anchor="end">0.2</text>
</g>
<text x="145.1" y="208.2" text-anchor="middle" font-size="9.6px" fill="#1a1a1a">Recall</text>
<text transform="translate(12.6 104.05) rotate(-90)" text-anchor="middle" font-size="9.6px" fill="#1a1a1a">Precision</text>
<text x="145.1" y="15.2" text-anchor="middle" font-size="11.2px" fill="#1a1a1a">NJU2K</text>
<text class="cap" x="84.2" y="228.7" textLength="99.6" lengthAdjust="spacing">(<tspan font-weight="bold">a</tspan>) NJU2K dataset</text>
</g>
<g class="panel" id="panel-b">
<clipPath id="clip-b"><rect x="314.5" y="18.9" width="225" height="167.5"/></clipPath>
<path d="M314.5 18.9V186.4M352 18.9V186.4M389.5 18.9V186.4M427 18.9V186.4M464.5 18.9V186.4M502 18.9V186.4M539.5 18.9V186.4M314.5 18.9H539.5M314.5 39.84H539.5M314.5 60.77H539.5M314.5 81.71H539.5M314.5 102.65H539.5M314.5 123.59H539.5M314.5 144.53H539.5M314.5 165.46H539.5M314.5 186.4H539.5" stroke="#a4a4a4" stroke-width="0.6" fill="none"/>
<g clip-path="url(#clip-b)" fill="none" stroke-width="1.6" stroke-linejoin="round">
<path d="M440 27.2L442.05 27.24L444.12 27.27L446.19 27.29L448.27 27.32L450.35 27.34L452.43 27.36L454.49 27.4L456.54 27.43L458.57 27.48L460.58 27.54L462.56 27.61L464.5 27.7L466.21 27.79L467.89 27.89L469.56 28L471.21 28.11L472.84 28.24L474.46 28.37L476.07 28.5L477.67 28.65L479.26 28.8L480.84 28.96L482.42 29.13L484 29.3L485.51 29.47L487.02 29.64L488.54 29.82L490.05 30.01L491.56 30.2L493.05 30.39L494.53 30.6L495.99 30.82L497.42 31.05L498.82 31.28L500.18 31.54L501.5 31.8L502.56 32.02L503.59 32.24L504.61 32.47L505.61 32.69L506.59 32.93L507.55 33.17L508.5 33.43L509.43 33.7L510.34 33.99L511.24 34.31L512.13 34.64L513 35L513.79 35.35L514.58 35.72L515.36 36.11L516.12 36.51L516.88 36.93L517.61 37.37L518.34 37.81L519.04 38.27L519.72 38.74L520.37 39.22L521 39.7L521.6 40.2L522.1 40.64L522.58 41.08L523.03 41.53L523.48 41.98L523.9 42.45L524.31 42.92L524.7 43.41L525.08 43.9L525.45 44.41L525.81 44.92L526.16 45.46L526.5 46L526.85 46.6L527.19 47.23L527.51 47.87L527.82 48.54L528.11 49.21L528.39 49.89L528.66 50.59L528.91 51.28L529.15 51.97L529.38 52.66L529.6 53.33L529.8 54L529.97 54.59L530.13 55.17L530.28 55.72L530.41 56.27L530.53 56.82L530.64 57.38L530.75 57.94L530.84 58.53L530.94 59.14L531.02 59.78L531.11 60.47L531.2 61.2L531.33 62.53L531.44 63.99L531.52 65.57L531.59 67.23L531.65 68.97L531.69 70.76L531.73 72.58L531.77 74.42L531.81 76.25L531.86 78.05L531.92 79.81L532 81.5L532.08 83.05L532.17 84.55L532.26 86.01L532.35 87.45L532.45 88.89L532.55 90.34L532.65 91.81L532.75 93.31L532.86 94.87L532.97 96.49L533.08 98.2L533.2 100L533.38 102.89L533.58 105.97L533.78 109.22L534 112.61L534.22 116.11L534.44 119.71L534.67 123.38L534.9 127.1L535.13 130.84L535.36 134.59L535.58 138.32L535.8 142L536.03 146.01L536.27 150.08L536.5 154.19L536.74 158.34L536.97 162.52L537.2 166.73L537.44 170.95L537.67 175.17L537.9 179.4L538.13 183.62L538.37 187.82L538.6 192" stroke="#000000"/>
<path d="M338 25.3L341.19 25.37L344.42 25.43L347.67 25.49L350.93 25.55L354.2 25.62L357.45 25.68L360.68 25.74L363.87 25.81L367.01 25.88L370.08 25.95L373.09 26.02L376 26.1L378.34 26.17L380.62 26.24L382.85 26.31L385.03 26.38L387.18 26.46L389.31 26.54L391.42 26.61L393.52 26.69L395.62 26.77L397.72 26.85L399.85 26.92L402 27L404.15 27.07L406.28 27.15L408.4 27.22L410.5 27.3L412.61 27.37L414.72 27.45L416.85 27.52L419.01 27.6L421.19 27.67L423.41 27.75L425.68 27.82L428 27.9L430.86 27.99L433.86 28.06L436.96 28.14L440.13 28.21L443.35 28.28L446.58 28.36L449.79 28.44L452.95 28.53L456.03 28.62L459 28.73L461.84 28.86L464.5 29L466.34 29.11L468.12 29.22L469.83 29.34L471.49 29.46L473.12 29.59L474.7 29.72L476.26 29.86L477.81 30.01L479.35 30.17L480.89 30.33L482.43 30.51L484 30.7L485.51 30.89L487.03 31.08L488.56 31.28L490.08 31.48L491.6 31.69L493.11 31.91L494.59 32.15L496.05 32.39L497.48 32.65L498.87 32.91L500.21 33.2L501.5 33.5L502.49 33.74L503.45 33.99L504.39 34.23L505.31 34.49L506.21 34.75L507.08 35.02L507.95 35.3L508.79 35.6L509.61 35.91L510.42 36.25L511.22 36.61L512 37L512.7 37.38L513.39 37.77L514.06 38.19L514.72 38.62L515.36 39.07L515.99 39.53L516.6 40L517.21 40.49L517.8 40.98L518.38 41.48L518.94 41.99L519.5 42.5L520.02 43L520.53 43.51L521.02 44.02L521.51 44.55L521.98 45.09L522.44 45.63L522.89 46.18L523.33 46.74L523.76 47.3L524.18 47.86L524.6 48.43L525 49L525.39 49.56L525.76 50.14L526.13 50.72L526.5 51.31L526.85 51.91L527.19 52.51L527.52 53.11L527.85 53.7L528.15 54.29L528.45 54.87L528.73 55.44L529 56L529.21 56.44L529.41 56.86L529.6 57.25L529.79 57.64L529.96 58.02L530.13 58.4L530.28 58.8L530.44 59.21L530.58 59.65L530.73 60.12L530.87 60.64L531 61.2L531.24 62.42L531.44 63.81L531.61 65.34L531.76 66.99L531.89 68.74L532 70.56L532.11 72.42L532.2 74.3L532.29 76.17L532.39 78.01L532.49 79.8L532.6 81.5L532.71 83.05L532.82 84.55L532.92 86.01L533.02 87.45L533.11 88.89L533.21 90.33L533.3 91.8L533.4 93.31L533.49 94.87L533.59 96.49L533.69 98.2L533.8 100L533.97 102.89L534.14 105.97L534.31 109.22L534.49 112.61L534.67 116.11L534.86 119.71L535.05 123.38L535.24 127.1L535.43 130.84L535.62 134.59L535.81 138.32L536 142L536.21 146.01L536.42 150.08L536.64 154.19L536.85 158.34L537.07 162.52L537.29 166.73L537.51 170.95L537.73 175.17L537.95 179.4L538.16 183.62L538.38 187.82L538.6 192" stroke="#008000" stroke-dasharray="4.6 2.05"/>
<path d="M401 27.2L403.24 27.3L405.45 27.4L407.65 27.5L409.85 27.59L412.04 27.69L414.25 27.79L416.46 27.89L418.7 27.99L420.96 28.09L423.26 28.19L425.61 28.29L428 28.4L430.89 28.52L433.9 28.64L437.01 28.75L440.18 28.87L443.4 28.98L446.62 29.1L449.82 29.23L452.97 29.36L456.05 29.5L459.01 29.66L461.84 29.82L464.5 30L466.34 30.14L468.12 30.28L469.83 30.42L471.5 30.56L473.12 30.71L474.71 30.86L476.27 31.03L477.81 31.2L479.35 31.38L480.89 31.57L482.44 31.78L484 32L485.51 32.22L487.03 32.45L488.56 32.69L490.09 32.94L491.61 33.2L493.11 33.47L494.6 33.75L496.06 34.04L497.48 34.33L498.87 34.65L500.21 34.97L501.5 35.3L502.49 35.57L503.45 35.83L504.39 36.1L505.31 36.37L506.21 36.65L507.08 36.94L507.94 37.24L508.79 37.55L509.61 37.88L510.42 38.23L511.22 38.6L512 39L512.7 39.38L513.38 39.79L514.05 40.21L514.7 40.64L515.34 41.09L515.96 41.55L516.57 42.02L517.18 42.5L517.77 42.99L518.35 43.49L518.93 43.99L519.5 44.5L520.05 45L520.59 45.52L521.12 46.04L521.65 46.58L522.16 47.13L522.67 47.68L523.16 48.23L523.65 48.79L524.13 49.34L524.59 49.9L525.05 50.45L525.5 51L525.9 51.5L526.3 52.01L526.7 52.51L527.09 53.02L527.47 53.54L527.84 54.05L528.21 54.55L528.56 55.06L528.89 55.55L529.21 56.05L529.51 56.53L529.8 57L530.01 57.36L530.21 57.69L530.41 58L530.59 58.31L530.76 58.61L530.93 58.91L531.08 59.22L531.24 59.55L531.38 59.91L531.53 60.3L531.66 60.73L531.8 61.2L532.06 62.35L532.28 63.69L532.47 65.2L532.64 66.85L532.78 68.6L532.9 70.43L533 72.32L533.1 74.22L533.19 76.12L533.29 77.99L533.39 79.79L533.5 81.5L533.61 83.05L533.71 84.55L533.81 86.01L533.9 87.45L533.99 88.89L534.07 90.33L534.16 91.8L534.24 93.31L534.33 94.87L534.42 96.49L534.51 98.2L534.6 100L534.75 102.89L534.9 105.97L535.05 109.22L535.21 112.61L535.37 116.11L535.53 119.71L535.69 123.38L535.85 127.1L536.02 130.84L536.18 134.59L536.34 138.32L536.5 142L536.67 146.01L536.85 150.08L537.02 154.19L537.2 158.34L537.37 162.52L537.55 166.73L537.72 170.95L537.9 175.17L538.07 179.4L538.25 183.62L538.42 187.82L538.6 192" stroke="#0000ff"/>
<path d="M331.2 25L332.89 25.02L334.58 25.05L336.26 25.07L337.93 25.09L339.61 25.11L341.29 25.13L342.97 25.15L344.67 25.18L346.37 25.2L348.09 25.23L349.84 25.26L351.6 25.3L353.55 25.34L355.53 25.39L357.53 25.45L359.54 25.5L361.57 25.56L363.62 25.62L365.67 25.68L367.73 25.75L369.79 25.81L371.86 25.87L373.93 25.94L376 26L378.14 26.06L380.29 26.13L382.44 26.19L384.61 26.26L386.77 26.33L388.95 26.4L391.12 26.46L393.3 26.53L395.48 26.6L397.66 26.67L399.83 26.73L402 26.8L404.15 26.87L406.28 26.93L408.4 27L410.5 27.06L412.61 27.12L414.73 27.19L416.85 27.25L419.01 27.32L421.19 27.39L423.41 27.46L425.68 27.53L428 27.6L430.86 27.69L433.86 27.77L436.96 27.85L440.13 27.93L443.35 28.01L446.58 28.09L449.79 28.18L452.95 28.28L456.03 28.39L459 28.51L461.84 28.65L464.5 28.8L466.34 28.92L468.12 29.04L469.83 29.17L471.49 29.3L473.12 29.44L474.7 29.58L476.26 29.73L477.81 29.88L479.35 30.05L480.89 30.22L482.43 30.41L484 30.6L485.51 30.79L487.04 30.97L488.58 31.16L490.12 31.35L491.66 31.54L493.17 31.75L494.67 31.97L496.13 32.21L497.55 32.47L498.93 32.75L500.25 33.06L501.5 33.4L502.42 33.67L503.31 33.95L504.17 34.24L505 34.54L505.82 34.85L506.61 35.17L507.38 35.51L508.14 35.86L508.87 36.24L509.6 36.64L510.3 37.06L511 37.5L511.65 37.95L512.28 38.43L512.89 38.93L513.48 39.45L514.06 39.99L514.63 40.54L515.18 41.11L515.72 41.68L516.25 42.26L516.77 42.84L517.29 43.42L517.8 44L518.28 44.56L518.76 45.13L519.22 45.71L519.68 46.29L520.13 46.88L520.57 47.47L521 48.07L521.42 48.66L521.83 49.25L522.23 49.84L522.62 50.42L523 51L523.34 51.51L523.67 52.02L523.99 52.54L524.31 53.05L524.63 53.56L524.93 54.07L525.22 54.57L525.51 55.07L525.78 55.56L526.03 56.05L526.28 56.53L526.5 57L526.67 57.36L526.82 57.69L526.96 58.01L527.09 58.32L527.21 58.62L527.32 58.93L527.43 59.24L527.54 59.57L527.65 59.93L527.76 60.31L527.88 60.73L528 61.2L528.28 62.36L528.56 63.7L528.85 65.21L529.15 66.86L529.45 68.61L529.74 70.44L530.03 72.32L530.31 74.23L530.58 76.12L530.84 77.99L531.08 79.79L531.3 81.5L531.49 83.04L531.66 84.54L531.82 86L531.97 87.45L532.1 88.88L532.23 90.33L532.35 91.8L532.48 93.31L532.6 94.87L532.73 96.49L532.86 98.2L533 100L533.22 102.89L533.45 105.97L533.68 109.22L533.92 112.6L534.16 116.11L534.4 119.71L534.63 123.38L534.87 127.1L535.11 130.84L535.34 134.59L535.57 138.32L535.8 142L536.04 146.01L536.28 150.08L536.52 154.19L536.75 158.34L536.99 162.52L537.22 166.73L537.45 170.95L537.68 175.17L537.91 179.4L538.14 183.62L538.37 187.82L538.6 192" stroke="#00ffff" stroke-dasharray="4.6 2.05"/>
<path d="M314 25.5L317.16 25.51L320.36 25.51L323.59 25.51L326.83 25.51L330.08 25.51L333.31 25.51L336.51 25.51L339.67 25.51L342.77 25.52L345.8 25.54L348.75 25.57L351.6 25.6L353.82 25.63L355.96 25.67L358.05 25.71L360.09 25.75L362.1 25.8L364.08 25.85L366.05 25.9L368 25.96L369.97 26.01L371.95 26.07L373.96 26.14L376 26.2L378.13 26.27L380.25 26.34L382.38 26.41L384.51 26.49L386.64 26.57L388.78 26.65L390.93 26.73L393.1 26.82L395.29 26.91L397.5 27L399.74 27.1L402 27.2L404.55 27.31L407.15 27.43L409.79 27.54L412.45 27.66L415.14 27.78L417.84 27.91L420.56 28.04L423.27 28.18L425.98 28.32L428.67 28.47L431.35 28.63L434 28.8L436.59 28.97L439.21 29.15L441.84 29.33L444.48 29.52L447.11 29.71L449.73 29.91L452.32 30.12L454.87 30.34L457.38 30.57L459.82 30.8L462.2 31.05L464.5 31.3L466.31 31.51L468.11 31.73L469.89 31.96L471.65 32.2L473.38 32.44L475.07 32.69L476.71 32.93L478.31 33.19L479.84 33.44L481.3 33.69L482.69 33.95L484 34.2L484.79 34.36L485.54 34.52L486.24 34.68L486.91 34.84L487.56 35L488.19 35.16L488.8 35.32L489.42 35.49L490.04 35.66L490.67 35.83L491.32 36.01L492 36.2L492.77 36.41L493.55 36.61L494.34 36.82L495.14 37.03L495.95 37.25L496.75 37.47L497.56 37.69L498.37 37.93L499.16 38.18L499.96 38.44L500.73 38.71L501.5 39L502.24 39.3L502.99 39.6L503.74 39.92L504.49 40.25L505.24 40.59L505.97 40.94L506.69 41.3L507.4 41.67L508.09 42.04L508.75 42.42L509.39 42.81L510 43.2L510.49 43.53L510.95 43.86L511.4 44.2L511.83 44.53L512.25 44.88L512.66 45.23L513.06 45.58L513.45 45.95L513.84 46.32L514.22 46.7L514.61 47.1L515 47.5L515.42 47.95L515.83 48.42L516.23 48.91L516.63 49.41L517.03 49.93L517.42 50.44L517.81 50.97L518.19 51.49L518.57 52L518.95 52.51L519.33 53.01L519.7 53.5L520.04 53.92L520.37 54.33L520.7 54.72L521.03 55.11L521.36 55.49L521.68 55.87L522 56.26L522.32 56.66L522.64 57.08L522.96 57.52L523.28 58L523.6 58.5L524.06 59.26L524.52 60.09L525 60.96L525.48 61.87L525.95 62.82L526.42 63.8L526.88 64.79L527.33 65.8L527.76 66.81L528.17 67.82L528.55 68.82L528.9 69.8L529.22 70.74L529.51 71.68L529.78 72.62L530.04 73.55L530.27 74.49L530.49 75.43L530.7 76.39L530.9 77.37L531.08 78.36L531.26 79.38L531.43 80.42L531.6 81.5L531.79 82.86L531.95 84.24L532.09 85.64L532.21 87.06L532.32 88.52L532.41 90.01L532.5 91.54L532.59 93.12L532.68 94.75L532.77 96.43L532.88 98.18L533 100L533.2 102.89L533.42 105.97L533.65 109.22L533.88 112.61L534.12 116.11L534.36 119.71L534.61 123.38L534.85 127.1L535.1 130.84L535.34 134.59L535.57 138.32L535.8 142L536.04 146.01L536.28 150.08L536.52 154.19L536.75 158.34L536.99 162.52L537.22 166.73L537.45 170.95L537.68 175.17L537.91 179.4L538.14 183.62L538.37 187.82L538.6 192" stroke="#ffff00"/>
<path d="M445 27.7L446.63 27.71L448.25 27.72L449.88 27.72L451.5 27.71L453.13 27.71L454.75 27.71L456.38 27.72L458 27.73L459.63 27.75L461.25 27.79L462.88 27.83L464.5 27.9L466.13 27.98L467.76 28.07L469.4 28.18L471.04 28.29L472.68 28.41L474.32 28.55L475.96 28.69L477.58 28.84L479.2 28.99L480.82 29.16L482.41 29.33L484 29.5L485.51 29.67L487.02 29.84L488.54 30.02L490.05 30.2L491.56 30.38L493.06 30.58L494.53 30.78L495.99 31L497.42 31.23L498.82 31.47L500.18 31.73L501.5 32L502.56 32.23L503.6 32.46L504.63 32.69L505.64 32.93L506.63 33.18L507.6 33.44L508.55 33.71L509.48 34L510.39 34.31L511.28 34.64L512.15 35.01L513 35.4L513.74 35.78L514.46 36.18L515.17 36.61L515.85 37.05L516.53 37.51L517.18 37.98L517.82 38.47L518.45 38.97L519.06 39.47L519.65 39.98L520.23 40.49L520.8 41L521.3 41.47L521.79 41.93L522.27 42.41L522.73 42.89L523.18 43.37L523.62 43.86L524.04 44.36L524.46 44.87L524.86 45.39L525.25 45.91L525.63 46.45L526 47L526.37 47.58L526.72 48.17L527.06 48.78L527.39 49.41L527.7 50.04L528.01 50.68L528.3 51.32L528.58 51.96L528.85 52.61L529.11 53.24L529.36 53.88L529.6 54.5L529.81 55.05L530 55.58L530.19 56.1L530.36 56.6L530.52 57.11L530.68 57.62L530.83 58.15L530.97 58.69L531.11 59.26L531.24 59.86L531.37 60.51L531.5 61.2L531.7 62.5L531.88 63.95L532.04 65.51L532.18 67.17L532.3 68.91L532.42 70.71L532.52 72.54L532.62 74.39L532.71 76.23L532.8 78.04L532.9 79.81L533 81.5L533.1 83.05L533.19 84.55L533.27 86.01L533.35 87.45L533.43 88.89L533.5 90.34L533.57 91.8L533.65 93.31L533.73 94.87L533.81 96.49L533.9 98.2L534 100L534.16 102.89L534.33 105.97L534.51 109.22L534.7 112.61L534.9 116.11L535.1 119.71L535.31 123.38L535.51 127.1L535.72 130.84L535.92 134.59L536.11 138.32L536.3 142L536.5 146.01L536.7 150.08L536.89 154.19L537.08 158.34L537.27 162.52L537.46 166.73L537.65 170.95L537.84 175.17L538.03 179.4L538.22 183.62L538.41 187.82L538.6 192" stroke="#ee82ee" stroke-dasharray="4.6 2.05"/>
<path d="M394.4 25.9L395.69 25.99L396.96 26.08L398.22 26.16L399.48 26.24L400.73 26.33L401.99 26.41L403.26 26.5L404.55 26.59L405.87 26.68L407.21 26.78L408.58 26.89L410 27L411.81 27.15L413.67 27.32L415.57 27.5L417.51 27.68L419.49 27.88L421.5 28.07L423.53 28.27L425.59 28.47L427.68 28.66L429.77 28.85L431.88 29.03L434 29.2L436.43 29.38L438.95 29.55L441.53 29.71L444.15 29.86L446.79 30.02L449.45 30.16L452.09 30.31L454.7 30.46L457.27 30.61L459.77 30.77L462.19 30.93L464.5 31.1L466.28 31.24L468.02 31.37L469.71 31.5L471.37 31.63L472.99 31.76L474.6 31.89L476.18 32.03L477.75 32.18L479.31 32.34L480.87 32.51L482.43 32.7L484 32.9L485.51 33.11L487.04 33.32L488.58 33.54L490.12 33.77L491.65 34.01L493.17 34.26L494.66 34.52L496.12 34.79L497.54 35.07L498.92 35.37L500.24 35.68L501.5 36L502.41 36.25L503.29 36.51L504.13 36.77L504.96 37.04L505.76 37.32L506.54 37.6L507.31 37.89L508.06 38.19L508.8 38.5L509.54 38.82L510.27 39.16L511 39.5L511.68 39.83L512.35 40.16L513.01 40.5L513.66 40.85L514.31 41.2L514.94 41.57L515.57 41.94L516.18 42.33L516.78 42.72L517.37 43.13L517.94 43.56L518.5 44L519.02 44.44L519.53 44.9L520.03 45.38L520.52 45.87L521 46.38L521.46 46.89L521.91 47.41L522.35 47.93L522.78 48.45L523.2 48.97L523.61 49.49L524 50L524.34 50.45L524.68 50.9L525.01 51.36L525.33 51.81L525.64 52.26L525.94 52.71L526.23 53.17L526.51 53.63L526.78 54.09L527.03 54.55L527.27 55.02L527.5 55.5L527.7 55.95L527.89 56.38L528.06 56.81L528.21 57.23L528.36 57.66L528.5 58.09L528.63 58.54L528.75 59.01L528.87 59.5L528.98 60.03L529.09 60.59L529.2 61.2L529.38 62.45L529.53 63.86L529.66 65.41L529.76 67.06L529.84 68.81L529.91 70.62L529.96 72.47L530.02 74.33L530.08 76.19L530.14 78.02L530.21 79.8L530.3 81.5L530.39 83.05L530.49 84.55L530.58 86.01L530.67 87.45L530.76 88.89L530.86 90.34L530.96 91.81L531.06 93.31L531.16 94.87L531.27 96.49L531.38 98.2L531.5 100L531.69 102.89L531.89 105.98L532.09 109.22L532.3 112.61L532.53 116.11L532.76 119.71L533 123.38L533.24 127.1L533.5 130.85L533.76 134.59L534.02 138.32L534.3 142L534.61 146.02L534.94 150.08L535.28 154.2L535.64 158.35L536 162.53L536.37 166.73L536.74 170.95L537.12 175.17L537.49 179.4L537.87 183.62L538.24 187.82L538.6 192" stroke="#ffa500"/>
<path d="M380 26.8L381.83 26.86L383.65 26.91L385.46 26.96L387.27 27.02L389.07 27.07L390.89 27.12L392.7 27.17L394.53 27.23L396.37 27.29L398.23 27.36L400.1 27.43L402 27.5L404.08 27.59L406.16 27.69L408.24 27.8L410.34 27.91L412.46 28.02L414.59 28.14L416.74 28.26L418.93 28.38L421.14 28.49L423.39 28.6L425.67 28.7L428 28.8L430.86 28.9L433.86 28.98L436.96 29.06L440.13 29.12L443.35 29.18L446.58 29.24L449.79 29.3L452.95 29.38L456.03 29.46L459 29.55L461.84 29.67L464.5 29.8L466.34 29.91L468.12 30.02L469.83 30.14L471.49 30.26L473.12 30.39L474.7 30.52L476.26 30.66L477.81 30.81L479.35 30.97L480.89 31.13L482.43 31.31L484 31.5L485.51 31.69L487.03 31.88L488.56 32.07L490.09 32.27L491.6 32.48L493.11 32.7L494.6 32.93L496.06 33.17L497.48 33.43L498.87 33.7L500.21 33.99L501.5 34.3L502.49 34.55L503.45 34.81L504.39 35.08L505.31 35.35L506.21 35.63L507.09 35.92L507.95 36.22L508.79 36.54L509.61 36.87L510.42 37.23L511.22 37.6L512 38L512.7 38.38L513.39 38.78L514.06 39.2L514.71 39.63L515.36 40.08L515.99 40.54L516.6 41.01L517.21 41.49L517.8 41.98L518.38 42.48L518.94 42.99L519.5 43.5L520.02 44L520.53 44.51L521.03 45.03L521.52 45.56L522 46.1L522.47 46.64L522.92 47.2L523.36 47.75L523.79 48.31L524.21 48.87L524.61 49.44L525 50L525.35 50.53L525.7 51.07L526.03 51.61L526.36 52.16L526.68 52.72L526.98 53.27L527.27 53.83L527.55 54.38L527.81 54.92L528.06 55.46L528.29 55.98L528.5 56.5L528.66 56.9L528.8 57.27L528.93 57.63L529.04 57.98L529.15 58.32L529.25 58.67L529.34 59.02L529.43 59.4L529.52 59.8L529.61 60.22L529.7 60.69L529.8 61.2L530 62.39L530.19 63.76L530.37 65.29L530.55 66.94L530.72 68.69L530.89 70.51L531.05 72.38L531.21 74.27L531.36 76.15L531.51 78L531.66 79.79L531.8 81.5L531.93 83.05L532.06 84.55L532.18 86.01L532.29 87.45L532.4 88.89L532.51 90.33L532.62 91.8L532.72 93.31L532.84 94.87L532.95 96.49L533.07 98.2L533.2 100L533.41 102.89L533.62 105.97L533.85 109.22L534.09 112.61L534.33 116.11L534.57 119.71L534.82 123.38L535.07 127.1L535.31 130.84L535.55 134.59L535.78 138.32L536 142L536.23 146.01L536.46 150.08L536.68 154.19L536.9 158.34L537.12 162.52L537.33 166.73L537.54 170.95L537.75 175.17L537.96 179.4L538.17 183.62L538.38 187.82L538.6 192" stroke="#d2691e" stroke-dasharray="4.6 2.05"/>
<path d="M405 27.4L406.9 27.5L408.77 27.6L410.63 27.7L412.47 27.8L414.32 27.9L416.17 28L418.04 28.1L419.94 28.2L421.88 28.3L423.86 28.4L425.9 28.5L428 28.6L430.78 28.73L433.73 28.85L436.8 28.96L439.97 29.08L443.19 29.19L446.44 29.31L449.67 29.44L452.87 29.57L455.98 29.71L458.98 29.86L461.83 30.02L464.5 30.2L466.34 30.34L468.12 30.48L469.83 30.62L471.5 30.76L473.12 30.91L474.71 31.06L476.27 31.23L477.81 31.4L479.35 31.58L480.89 31.77L482.44 31.98L484 32.2L485.51 32.42L487.04 32.65L488.57 32.89L490.1 33.14L491.63 33.39L493.14 33.66L494.63 33.94L496.09 34.23L497.51 34.53L498.89 34.84L500.23 35.16L501.5 35.5L502.45 35.77L503.37 36.03L504.27 36.3L505.14 36.57L505.99 36.85L506.82 37.14L507.64 37.44L508.43 37.76L509.22 38.09L509.99 38.44L510.75 38.81L511.5 39.2L512.19 39.59L512.87 40L513.54 40.43L514.19 40.88L514.83 41.34L515.45 41.81L516.07 42.3L516.67 42.79L517.27 43.29L517.85 43.79L518.43 44.29L519 44.8L519.53 45.29L520.06 45.78L520.58 46.28L521.08 46.78L521.58 47.29L522.07 47.81L522.55 48.33L523.02 48.86L523.48 49.39L523.93 49.92L524.37 50.46L524.8 51L525.2 51.53L525.6 52.07L525.99 52.62L526.37 53.19L526.74 53.75L527.11 54.32L527.46 54.88L527.8 55.43L528.12 55.98L528.43 56.51L528.72 57.01L529 57.5L529.19 57.83L529.37 58.13L529.54 58.41L529.7 58.67L529.86 58.93L530.01 59.19L530.15 59.46L530.29 59.75L530.42 60.06L530.55 60.4L530.68 60.78L530.8 61.2L531.05 62.31L531.27 63.63L531.46 65.13L531.62 66.77L531.75 68.53L531.87 70.37L531.98 72.26L532.08 74.19L532.17 76.1L532.27 77.98L532.38 79.79L532.5 81.5L532.62 83.05L532.73 84.55L532.84 86.01L532.95 87.45L533.05 88.89L533.16 90.33L533.26 91.8L533.36 93.31L533.47 94.87L533.57 96.49L533.68 98.2L533.8 100L533.98 102.89L534.17 105.97L534.37 109.22L534.57 112.61L534.77 116.11L534.98 119.71L535.19 123.38L535.39 127.1L535.6 130.84L535.8 134.59L536.01 138.32L536.2 142L536.41 146.01L536.61 150.08L536.82 154.19L537.02 158.34L537.22 162.52L537.41 166.73L537.61 170.95L537.81 175.17L538.01 179.4L538.2 183.62L538.4 187.82L538.6 192" stroke="#4b0082"/>
<path d="M370.2 26.7L372.86 26.75L375.54 26.8L378.23 26.84L380.92 26.88L383.61 26.93L386.3 26.97L388.98 27.02L391.64 27.07L394.28 27.12L396.89 27.18L399.46 27.24L402 27.3L404.24 27.36L406.43 27.43L408.58 27.5L410.7 27.57L412.8 27.64L414.89 27.72L416.99 27.8L419.1 27.87L421.25 27.95L423.44 28.04L425.69 28.12L428 28.2L430.86 28.3L433.86 28.39L436.96 28.48L440.13 28.57L443.35 28.66L446.58 28.75L449.79 28.85L452.95 28.96L456.03 29.08L459 29.2L461.84 29.34L464.5 29.5L466.34 29.62L468.12 29.74L469.83 29.86L471.5 29.99L473.12 30.12L474.7 30.26L476.27 30.41L477.81 30.56L479.35 30.73L480.89 30.91L482.43 31.1L484 31.3L485.51 31.5L487.03 31.72L488.56 31.94L490.09 32.16L491.61 32.4L493.11 32.65L494.6 32.91L496.06 33.18L497.48 33.46L498.87 33.76L500.21 34.07L501.5 34.4L502.49 34.67L503.45 34.94L504.39 35.21L505.31 35.49L506.21 35.78L507.09 36.07L507.95 36.39L508.79 36.71L509.61 37.05L510.42 37.41L511.22 37.79L512 38.2L512.7 38.59L513.39 39L514.06 39.43L514.72 39.87L515.36 40.33L515.99 40.8L516.6 41.28L517.21 41.77L517.8 42.27L518.38 42.77L518.94 43.28L519.5 43.8L520.02 44.3L520.53 44.81L521.02 45.34L521.51 45.87L521.98 46.41L522.44 46.95L522.9 47.5L523.34 48.06L523.77 48.62L524.19 49.18L524.6 49.74L525 50.3L525.37 50.83L525.74 51.37L526.1 51.92L526.45 52.48L526.79 53.03L527.12 53.59L527.44 54.14L527.75 54.69L528.04 55.24L528.31 55.77L528.57 56.29L528.8 56.8L528.97 57.18L529.12 57.53L529.26 57.86L529.38 58.19L529.5 58.5L529.61 58.83L529.71 59.16L529.81 59.5L529.91 59.88L530 60.28L530.1 60.72L530.2 61.2L530.41 62.37L530.6 63.73L530.78 65.24L530.94 66.89L531.1 68.64L531.24 70.47L531.38 72.35L531.51 74.25L531.64 76.14L531.76 78L531.88 79.79L532 81.5L532.11 83.05L532.2 84.55L532.28 86.01L532.36 87.45L532.43 88.89L532.5 90.34L532.57 91.8L532.64 93.31L532.71 94.87L532.8 96.49L532.89 98.2L533 100L533.18 102.89L533.39 105.98L533.62 109.22L533.86 112.61L534.11 116.11L534.37 119.71L534.64 123.38L534.9 127.1L535.16 130.84L535.42 134.59L535.67 138.32L535.9 142L536.14 146.01L536.38 150.08L536.61 154.19L536.84 158.34L537.06 162.52L537.28 166.73L537.5 170.95L537.72 175.17L537.94 179.4L538.16 183.62L538.38 187.82L538.6 192" stroke="#808000" stroke-dasharray="4.6 2.05"/>
<path d="M402.8 23.9L404.89 23.94L406.95 23.97L408.99 24L411.03 24.02L413.07 24.05L415.11 24.08L417.17 24.11L419.26 24.15L421.37 24.2L423.53 24.25L425.74 24.32L428 24.4L430.84 24.52L433.83 24.66L436.92 24.82L440.09 24.99L443.31 25.18L446.54 25.37L449.76 25.57L452.93 25.77L456.02 25.96L459 26.15L461.83 26.33L464.5 26.5L466.34 26.61L468.11 26.71L469.83 26.81L471.49 26.9L473.11 26.99L474.7 27.08L476.26 27.17L477.81 27.27L479.35 27.38L480.89 27.51L482.43 27.64L484 27.8L485.51 27.97L487.05 28.16L488.59 28.36L490.14 28.58L491.68 28.8L493.2 29.03L494.7 29.26L496.17 29.49L497.59 29.71L498.96 29.92L500.26 30.12L501.5 30.3L502.32 30.41L503.11 30.52L503.87 30.62L504.6 30.71L505.32 30.8L506.01 30.89L506.7 30.98L507.37 31.08L508.03 31.17L508.69 31.27L509.34 31.38L510 31.5L510.58 31.6L511.14 31.7L511.7 31.79L512.25 31.88L512.8 31.98L513.34 32.08L513.87 32.19L514.4 32.31L514.93 32.45L515.45 32.61L515.98 32.79L516.5 33L517.07 33.26L517.65 33.55L518.23 33.87L518.81 34.22L519.38 34.58L519.95 34.96L520.51 35.35L521.05 35.75L521.58 36.15L522.08 36.54L522.55 36.93L523 37.3L523.33 37.58L523.63 37.86L523.92 38.14L524.2 38.42L524.47 38.7L524.72 38.98L524.97 39.26L525.22 39.55L525.46 39.85L525.71 40.16L525.95 40.47L526.2 40.8L526.49 41.18L526.77 41.57L527.05 41.97L527.33 42.38L527.61 42.8L527.88 43.23L528.15 43.66L528.41 44.11L528.67 44.57L528.92 45.03L529.16 45.51L529.4 46L529.67 46.6L529.92 47.22L530.17 47.86L530.41 48.53L530.64 49.21L530.87 49.89L531.08 50.59L531.29 51.28L531.5 51.98L531.7 52.66L531.9 53.34L532.1 54L532.28 54.6L532.46 55.17L532.64 55.73L532.81 56.28L532.97 56.83L533.14 57.38L533.29 57.94L533.44 58.53L533.59 59.14L533.73 59.78L533.87 60.47L534 61.2L534.2 62.53L534.37 63.99L534.53 65.56L534.67 67.23L534.8 68.96L534.91 70.75L535.02 72.58L535.12 74.41L535.21 76.24L535.31 78.05L535.4 79.81L535.5 81.5L535.59 83.05L535.68 84.55L535.77 86.01L535.85 87.45L535.92 88.89L535.99 90.33L536.06 91.8L536.13 93.31L536.2 94.87L536.27 96.49L536.33 98.2L536.4 100L536.5 102.89L536.59 105.97L536.68 109.22L536.76 112.61L536.84 116.11L536.92 119.71L537 123.38L537.08 127.1L537.15 130.84L537.23 134.59L537.31 138.32L537.4 142L537.5 146.01L537.59 150.08L537.69 154.19L537.79 158.34L537.89 162.52L537.99 166.73L538.09 170.95L538.2 175.17L538.3 179.4L538.4 183.62L538.5 187.82L538.6 192" stroke="#ff0000"/>
</g>
<rect x="318.6" y="45.4" width="64.6" height="137.0" rx="1.6" fill="#fff" fill-opacity="0.8" stroke="#d2d2d2" stroke-opacity="0.8" stroke-width="0.8"/>
<g font-size="8.05px" fill="#1a1a1a">
<path d="M321.1 51.9h17.2" stroke="#000000" stroke-width="1.6"/>
<text x="344.4" y="54.8">AFNet</text>
<path d="M321.1 64.11h17.2" stroke="#008000" stroke-width="1.6" stroke-dasharray="4.6 2.05"/>
<text x="344.4" y="67.01">C2DFNet</text>
<path d="M321.1 76.32h17.2" stroke="#0000ff" stroke-width="1.6"/>
<text x="344.4" y="79.22">CFIDNet</text>
<path d="M321.1 88.53h17.2" stroke="#00ffff" stroke-width="1.6" stroke-dasharray="4.6 2.05"/>
<text x="344.4" y="91.43">CIR-Net</text>
<path d="M321.1 100.74h17.2" stroke="#ffff00" stroke-width="1.6"/>
<text x="344.4" y="103.64">D3Net</text>
<path d="M321.1 112.95h17.2" stroke="#ee82ee" stroke-width="1.6" stroke-dasharray="4.6 2.05"/>
<text x="344.4" y="115.85">DASNet</text>
<path d="M321.1 125.16h17.2" stroke="#ffa500" stroke-width="1.6"/>
<text x="344.4" y="128.06">DCF</text>
<path d="M321.1 137.37h17.2" stroke="#d2691e" stroke-width="1.6" stroke-dasharray="4.6 2.05"/>
<text x="344.4" y="140.27">DCMF</text>
<path d="M321.1 149.58h17.2" stroke="#4b0082" stroke-width="1.6"/>
<text x="344.4" y="152.48">HINet</text>
<path d="M321.1 161.79h17.2" stroke="#808000" stroke-width="1.6" stroke-dasharray="4.6 2.05"/>
<text x="344.4" y="164.69">ICNet</text>
<path d="M321.1 174h17.2" stroke="#ff0000" stroke-width="1.6"/>
<text x="344.4" y="176.9">Ours</text>
</g>
<rect x="314.5" y="18.9" width="225" height="167.5" fill="none" stroke="#3a3a3a" stroke-width="0.75"/>
<path d="M314.5 186.4v2.4M352 186.4v2.4M389.5 186.4v2.4M427 186.4v2.4M464.5 186.4v2.4M502 186.4v2.4M539.5 186.4v2.4M314.5 18.9h-2.4M314.5 39.84h-2.4M314.5 60.77h-2.4M314.5 81.71h-2.4M314.5 102.65h-2.4M314.5 123.59h-2.4M314.5 144.53h-2.4M314.5 165.46h-2.4M314.5 186.4h-2.4" stroke="#3a3a3a" stroke-width="0.75" fill="none"/>
<g font-size="7.4px" fill="#1a1a1a">
<text x="314.2" y="197" text-anchor="middle">0.4</text>
<text x="351.7" y="197" text-anchor="middle">0.5</text>
<text x="389.2" y="197" text-anchor="middle">0.6</text>
<text x="426.7" y="197" text-anchor="middle">0.7</text>
<text x="464.2" y="197" text-anchor="middle">0.8</text>
<text x="501.7" y="197" text-anchor="middle">0.9</text>
<text x="539.2" y="197" text-anchor="middle">1.0</text>
<text x="309.6" y="22.2" text-anchor="end">1.0</text>
<text x="309.6" y="43.14" text-anchor="end">0.9</text>
<text x="309.6" y="64.08" text-anchor="end">0.8</text>
<text x="309.6" y="85.01" text-anchor="end">0.7</text>
<text x="309.6" y="105.95" text-anchor="end">0.6</text>
<text x="309.6" y="126.89" text-anchor="end">0.5</text>
<text x="309.6" y="147.83" text-anchor="end">0.4</text>
<text x="309.6" y="168.76" text-anchor="end">0.3</text>
<text x="309.6" y="189.7" text-anchor="end">0.2</text>
</g>
<text x="426.6" y="208.4" text-anchor="middle" font-size="9.6px" fill="#1a1a1a">Recall</text>
<text transform="translate(293.6 104.15) rotate(-90)" text-anchor="middle" font-size="9.6px" fill="#1a1a1a">Precision</text>
<text x="426.6" y="15.2" text-anchor="middle" font-size="11.2px" fill="#1a1a1a">NLPR</text>
<text class="cap" x="367.3" y="228.7" textLength="95.2" lengthAdjust="spacing">(<tspan font-weight="bold">b</tspan>) NLPR dataset</text>
</g>
<g class="panel" id="panel-c">
<clipPath id="clip-c"><rect x="33.5" y="248.75" width="223.6" height="166.75"/></clipPath>
<path d="M33.5 248.75V415.5M70.77 248.75V415.5M108.03 248.75V415.5M145.3 248.75V415.5M182.57 248.75V415.5M219.83 248.75V415.5M257.1 248.75V415.5M33.5 248.75H257.1M33.5 269.59H257.1M33.5 290.44H257.1M33.5 311.28H257.1M33.5 332.12H257.1M33.5 352.97H257.1M33.5 373.81H257.1M33.5 394.66H257.1M33.5 415.5H257.1" stroke="#a4a4a4" stroke-width="0.6" fill="none"/>
<g clip-path="url(#clip-c)" fill="none" stroke-width="1.6" stroke-linejoin="round">
<path d="M110 249.7L112.99 249.75L116 249.8L119.02 249.84L122.05 249.88L125.07 249.92L128.09 249.96L131.1 250.01L134.09 250.06L137.07 250.12L140.01 250.2L142.92 250.29L145.8 250.4L148.42 250.51L151.02 250.63L153.62 250.76L156.19 250.89L158.75 251.03L161.28 251.19L163.8 251.35L166.29 251.52L168.76 251.7L171.2 251.89L173.62 252.09L176 252.3L178.11 252.49L180.2 252.68L182.27 252.86L184.32 253.05L186.35 253.25L188.36 253.46L190.35 253.68L192.32 253.93L194.27 254.2L196.2 254.5L198.11 254.83L200 255.2L201.73 255.57L203.48 255.98L205.22 256.41L206.96 256.87L208.68 257.35L210.37 257.84L212.03 258.35L213.65 258.87L215.21 259.4L216.71 259.93L218.15 260.47L219.5 261L220.43 261.38L221.31 261.75L222.17 262.12L222.99 262.49L223.78 262.86L224.55 263.24L225.3 263.63L226.04 264.04L226.76 264.47L227.48 264.92L228.19 265.39L228.9 265.9L229.63 266.45L230.34 267.03L231.04 267.64L231.73 268.27L232.41 268.93L233.07 269.59L233.73 270.28L234.37 270.97L234.99 271.67L235.61 272.38L236.21 273.09L236.8 273.8L237.37 274.52L237.93 275.27L238.49 276.05L239.04 276.84L239.57 277.65L240.09 278.45L240.6 279.24L241.08 280.01L241.55 280.75L241.99 281.45L242.41 282.11L242.8 282.7L243.02 283.02L243.23 283.32L243.44 283.59L243.63 283.85L243.81 284.09L243.99 284.33L244.17 284.57L244.33 284.82L244.5 285.08L244.67 285.36L244.83 285.66L245 286L245.25 286.56L245.48 287.17L245.71 287.82L245.93 288.52L246.14 289.24L246.35 289.98L246.56 290.74L246.76 291.51L246.97 292.27L247.18 293.03L247.39 293.78L247.6 294.5L247.72 295.89L247.83 297.28L247.95 298.66L248.07 300.03L248.19 301.41L248.31 302.78L248.43 304.17L248.54 305.56L248.66 306.97L248.77 308.39L248.89 309.84L249 311.3L249.12 312.96L249.25 314.66L249.37 316.38L249.49 318.12L249.61 319.87L249.73 321.64L249.85 323.42L249.97 325.19L250.08 326.96L250.19 328.72L250.3 330.47L250.4 332.2L250.49 333.83L250.57 335.39L250.64 336.91L250.71 338.4L250.78 339.89L250.84 341.39L250.91 342.94L250.98 344.54L251.07 346.23L251.16 348.02L251.27 349.94L251.4 352L251.68 356.24L252.02 360.98L252.41 366.14L252.84 371.66L253.29 377.45L253.77 383.46L254.26 389.61L254.77 395.83L255.27 402.05L255.76 408.2L256.24 414.2L256.7 420" stroke="#000000"/>
<path d="M95 250.5L99.28 250.62L103.62 250.74L108.01 250.85L112.42 250.95L116.83 251.06L121.22 251.17L125.57 251.29L129.84 251.41L134.03 251.54L138.1 251.68L142.03 251.83L145.8 252L148.6 252.13L151.33 252.26L153.99 252.38L156.58 252.51L159.12 252.64L161.62 252.78L164.07 252.93L166.49 253.1L168.89 253.28L171.27 253.49L173.64 253.73L176 254L178.12 254.27L180.24 254.58L182.36 254.91L184.46 255.26L186.53 255.63L188.59 256.01L190.61 256.39L192.59 256.77L194.52 257.15L196.41 257.52L198.24 257.87L200 258.2L201.31 258.43L202.59 258.63L203.84 258.82L205.06 259L206.26 259.17L207.43 259.35L208.57 259.54L209.7 259.74L210.8 259.98L211.89 260.24L212.95 260.55L214 260.9L214.92 261.25L215.82 261.63L216.7 262.04L217.56 262.48L218.41 262.93L219.24 263.4L220.06 263.88L220.85 264.38L221.64 264.88L222.41 265.38L223.16 265.89L223.9 266.4L224.56 266.86L225.2 267.32L225.84 267.79L226.47 268.26L227.08 268.75L227.68 269.23L228.27 269.73L228.84 270.23L229.39 270.74L229.91 271.25L230.42 271.77L230.9 272.3L231.31 272.78L231.71 273.26L232.1 273.76L232.47 274.26L232.83 274.76L233.17 275.27L233.49 275.78L233.8 276.29L234.08 276.8L234.35 277.31L234.58 277.81L234.8 278.3L234.95 278.7L235.08 279.09L235.19 279.49L235.28 279.88L235.36 280.27L235.42 280.66L235.48 281.05L235.54 281.44L235.6 281.83L235.66 282.22L235.72 282.61L235.8 283L235.9 284.06L236 285.14L236.1 286.23L236.2 287.32L236.3 288.42L236.4 289.51L236.5 290.59L236.6 291.65L236.7 292.69L236.8 293.69L236.9 294.67L237 295.6L237.08 296.29L237.15 296.95L237.23 297.59L237.3 298.21L237.38 298.82L237.45 299.42L237.53 300.02L237.6 300.61L237.68 301.2L237.75 301.79L237.83 302.39L237.9 303" stroke="#008000" stroke-dasharray="4.6 2.05"/>
<path d="M105 250.2L108.42 250.26L111.87 250.32L115.34 250.37L118.83 250.42L122.31 250.46L125.78 250.51L129.24 250.57L132.66 250.63L136.03 250.7L139.36 250.79L142.62 250.88L145.8 251L148.55 251.11L151.36 251.24L154.2 251.38L157.04 251.53L159.85 251.68L162.6 251.84L165.25 252L167.77 252.17L170.14 252.33L172.33 252.49L174.29 252.65L176 252.8L176.68 252.86L177.3 252.93L177.85 252.98L178.36 253.04L178.84 253.1L179.3 253.15L179.75 253.21L180.2 253.28L180.67 253.35L181.17 253.42L181.71 253.51L182.3 253.6L183.29 253.76L184.38 253.94L185.55 254.15L186.79 254.37L188.06 254.6L189.34 254.84L190.61 255.08L191.85 255.33L193.03 255.56L194.13 255.79L195.13 256L196 256.2L196.41 256.3L196.78 256.38L197.12 256.47L197.43 256.54L197.72 256.62L198.01 256.7L198.29 256.78L198.58 256.86L198.89 256.95L199.23 257.06L199.59 257.17L200 257.3L200.89 257.59L201.92 257.92L203.05 258.3L204.27 258.71L205.55 259.14L206.86 259.6L208.18 260.07L209.48 260.55L210.74 261.03L211.93 261.5L213.02 261.96L214 262.4L214.61 262.68L215.18 262.96L215.73 263.23L216.26 263.49L216.77 263.75L217.26 264.02L217.74 264.29L218.2 264.58L218.66 264.88L219.11 265.2L219.55 265.54L220 265.9L220.46 266.31L220.91 266.74L221.35 267.19L221.78 267.66L222.19 268.15L222.6 268.65L223 269.16L223.39 269.68L223.78 270.21L224.16 270.74L224.53 271.27L224.9 271.8L225.28 272.35L225.65 272.91L226.02 273.47L226.39 274.04L226.74 274.62L227.09 275.21L227.43 275.8L227.76 276.39L228.07 276.99L228.36 277.59L228.64 278.2L228.9 278.8L229.12 279.37L229.32 279.92L229.5 280.46L229.65 281L229.8 281.54L229.93 282.09L230.07 282.66L230.2 283.25L230.33 283.87L230.47 284.54L230.63 285.24L230.8 286L231.15 287.57L231.54 289.35L231.94 291.29L232.37 293.37L232.81 295.56L233.26 297.83L233.7 300.14L234.15 302.47L234.59 304.78L235.01 307.04L235.42 309.22L235.8 311.3L236.12 313.11L236.43 314.9L236.73 316.68L237.01 318.43L237.29 320.18L237.56 321.91L237.83 323.64L238.11 325.35L238.39 327.07L238.68 328.78L238.98 330.49L239.3 332.2L239.62 333.83L239.93 335.4L240.25 336.91L240.57 338.41L240.89 339.89L241.22 341.39L241.56 342.94L241.92 344.54L242.29 346.23L242.67 348.02L243.08 349.94L243.5 352L244.35 356.24L245.29 360.98L246.3 366.14L247.38 371.65L248.5 377.45L249.66 383.45L250.84 389.6L252.04 395.82L253.23 402.05L254.42 408.2L255.58 414.2L256.7 420" stroke="#0000ff"/>
<path d="M92 251.5L96.53 251.52L101.15 251.51L105.82 251.48L110.51 251.44L115.21 251.4L119.88 251.37L124.49 251.36L129.02 251.38L133.45 251.45L137.74 251.56L141.86 251.74L145.8 252L148.65 252.24L151.42 252.52L154.12 252.83L156.76 253.17L159.33 253.53L161.85 253.91L164.32 254.31L166.73 254.72L169.11 255.13L171.44 255.56L173.73 255.98L176 256.4L177.87 256.76L179.76 257.15L181.66 257.56L183.55 257.98L185.41 258.41L187.22 258.83L188.97 259.25L190.62 259.65L192.17 260.02L193.6 260.36L194.88 260.65L196 260.9L196.43 260.99L196.82 261.06L197.16 261.11L197.48 261.16L197.77 261.2L198.06 261.23L198.33 261.28L198.62 261.33L198.92 261.39L199.24 261.47L199.6 261.57L200 261.7L200.9 262.02L201.93 262.44L203.07 262.92L204.29 263.47L205.56 264.07L206.87 264.7L208.19 265.35L209.49 266L210.74 266.65L211.93 267.27L213.02 267.86L214 268.4L214.6 268.74L215.18 269.07L215.72 269.38L216.25 269.7L216.75 270L217.24 270.31L217.72 270.62L218.18 270.93L218.64 271.26L219.09 271.59L219.55 271.94L220 272.3L220.45 272.67L220.88 273.06L221.31 273.45L221.73 273.85L222.14 274.26L222.55 274.67L222.95 275.1L223.34 275.53L223.73 275.96L224.12 276.4L224.51 276.85L224.9 277.3L225.31 277.78L225.72 278.27L226.12 278.77L226.53 279.27L226.93 279.79L227.33 280.3L227.72 280.83L228.1 281.36L228.47 281.89L228.83 282.42L229.17 282.96L229.5 283.5L229.8 284.02L230.1 284.56L230.38 285.1L230.66 285.64L230.92 286.19L231.18 286.74L231.42 287.29L231.66 287.84L231.88 288.38L232.1 288.93L232.3 289.47L232.5 290L232.66 290.47L232.8 290.91L232.93 291.35L233.04 291.78L233.15 292.21L233.25 292.64L233.35 293.08L233.45 293.53L233.57 294.01L233.69 294.51L233.84 295.04L234 295.6L234.33 296.65L234.71 297.79L235.14 299.01L235.6 300.3L236.09 301.65L236.59 303.04L237.09 304.46L237.58 305.9L238.06 307.35L238.52 308.79L238.93 310.21L239.3 311.6L239.63 312.99L239.93 314.4L240.2 315.81L240.45 317.24L240.69 318.67L240.91 320.1L241.12 321.53L241.33 322.97L241.54 324.41L241.75 325.84L241.97 327.27L242.2 328.7L242.43 330.08L242.65 331.4L242.86 332.67L243.07 333.92L243.28 335.18L243.49 336.45L243.71 337.77L243.94 339.14L244.17 340.61L244.43 342.17L244.7 343.86L245 345.7L245.7 350.06L246.49 355.05L247.37 360.59L248.31 366.58L249.31 372.94L250.36 379.57L251.42 386.39L252.51 393.29L253.59 400.2L254.66 407.01L255.7 413.64L256.7 420" stroke="#00ffff" stroke-dasharray="4.6 2.05"/>
<path d="M33 250.6L38.71 250.67L44.62 250.74L50.67 250.8L56.79 250.86L62.91 250.91L68.96 250.97L74.87 251.04L80.58 251.11L86.02 251.19L91.11 251.28L95.79 251.38L100 251.5L102.07 251.57L103.98 251.64L105.77 251.71L107.44 251.78L109.04 251.86L110.58 251.93L112.08 252.01L113.58 252.1L115.1 252.19L116.66 252.29L118.28 252.39L120 252.5L122.02 252.64L124.07 252.78L126.14 252.94L128.22 253.11L130.33 253.28L132.47 253.46L134.63 253.64L136.81 253.82L139.02 254L141.25 254.17L143.51 254.34L145.8 254.5L148.51 254.66L151.33 254.78L154.23 254.88L157.19 254.97L160.19 255.06L163.19 255.15L166.18 255.26L169.12 255.39L172 255.57L174.79 255.78L177.47 256.06L180 256.4L181.88 256.7L183.72 257.01L185.51 257.34L187.26 257.68L188.97 258.05L190.65 258.44L192.28 258.86L193.89 259.31L195.46 259.8L197 260.32L198.51 260.89L200 261.5L201.32 262.1L202.62 262.78L203.91 263.5L205.18 264.27L206.42 265.07L207.64 265.88L208.81 266.69L209.95 267.49L211.04 268.26L212.09 269L213.07 269.68L214 270.3L214.55 270.66L215.08 271L215.57 271.33L216.05 271.64L216.51 271.95L216.96 272.25L217.39 272.54L217.82 272.83L218.24 273.11L218.65 273.4L219.07 273.7L219.5 274L219.88 274.28L220.25 274.55L220.61 274.82L220.97 275.1L221.31 275.37L221.66 275.64L222.01 275.91L222.37 276.18L222.73 276.46L223.11 276.74L223.49 277.02L223.9 277.3L224.43 277.65L224.98 277.99L225.55 278.34L226.14 278.68L226.75 279.03L227.36 279.38L227.98 279.74L228.59 280.1L229.19 280.48L229.78 280.87L230.35 281.28L230.9 281.7L231.43 282.14L231.96 282.6L232.47 283.07L232.97 283.56L233.47 284.05L233.96 284.56L234.44 285.07L234.92 285.59L235.39 286.11L235.86 286.64L236.33 287.17L236.8 287.7L237.27 288.24L237.75 288.77L238.21 289.31L238.68 289.84L239.14 290.39L239.6 290.94L240.05 291.5L240.49 292.07L240.93 292.65L241.36 293.25L241.78 293.87L242.2 294.5L242.67 295.25L243.13 296.02L243.58 296.82L244.03 297.64L244.48 298.48L244.91 299.33L245.33 300.19L245.74 301.05L246.13 301.92L246.5 302.79L246.86 303.65L247.2 304.5L247.51 305.3L247.8 306.1L248.07 306.88L248.33 307.66L248.58 308.45L248.82 309.24L249.04 310.04L249.25 310.86L249.45 311.7L249.64 312.57L249.83 313.46L250 314.4L250.21 315.69L250.39 317.04L250.55 318.45L250.69 319.9L250.8 321.38L250.91 322.9L251 324.44L251.08 325.99L251.16 327.55L251.24 329.11L251.32 330.67L251.4 332.2L251.48 333.77L251.55 335.3L251.6 336.8L251.65 338.28L251.68 339.78L251.72 341.29L251.76 342.86L251.8 344.49L251.86 346.19L251.92 348L252 349.93L252.1 352L252.33 356.24L252.62 360.98L252.95 366.14L253.32 371.66L253.71 377.45L254.13 383.46L254.57 389.61L255.01 395.83L255.45 402.05L255.88 408.2L256.3 414.2L256.7 420" stroke="#ffff00"/>
<path d="M130 252L131.3 252.01L132.57 252.02L133.83 252.02L135.08 252.02L136.33 252.02L137.58 252.02L138.86 252.03L140.16 252.04L141.5 252.06L142.87 252.09L144.31 252.14L145.8 252.2L148 252.3L150.35 252.42L152.82 252.55L155.39 252.69L158.03 252.85L160.7 253.04L163.39 253.24L166.05 253.46L168.68 253.71L171.23 253.98L173.68 254.27L176 254.6L177.87 254.9L179.76 255.25L181.67 255.63L183.56 256.04L185.42 256.46L187.23 256.88L188.97 257.31L190.63 257.73L192.18 258.12L193.6 258.49L194.88 258.82L196 259.1L196.44 259.21L196.82 259.3L197.17 259.37L197.48 259.44L197.78 259.51L198.06 259.58L198.34 259.65L198.62 259.72L198.92 259.81L199.24 259.92L199.6 260.05L200 260.2L200.9 260.57L201.93 261.03L203.07 261.57L204.28 262.17L205.56 262.81L206.87 263.49L208.18 264.18L209.48 264.88L210.74 265.56L211.92 266.22L213.02 266.84L214 267.4L214.6 267.75L215.18 268.07L215.74 268.39L216.28 268.69L216.8 268.99L217.3 269.29L217.78 269.59L218.25 269.9L218.71 270.22L219.15 270.56L219.58 270.91L220 271.3L220.4 271.7L220.78 272.11L221.15 272.54L221.51 272.98L221.85 273.44L222.18 273.9L222.5 274.38L222.81 274.86L223.1 275.34L223.38 275.83L223.65 276.31L223.9 276.8L224.13 277.27L224.33 277.75L224.52 278.23L224.69 278.72L224.85 279.22L225.01 279.71L225.15 280.21L225.3 280.71L225.44 281.21L225.59 281.71L225.74 282.21L225.9 282.7L225.95 282.97L225.99 283.21L226.04 283.45L226.08 283.69L226.12 283.92L226.16 284.16L226.21 284.41L226.26 284.67L226.31 284.96L226.37 285.27L226.43 285.62L226.5 286L226.73 287.28L227.01 288.87L227.33 290.71L227.69 292.77L228.08 294.99L228.49 297.32L228.92 299.73L229.36 302.17L229.81 304.59L230.25 306.95L230.68 309.2L231.1 311.3L231.48 313.12L231.87 314.91L232.26 316.68L232.66 318.44L233.07 320.18L233.48 321.91L233.88 323.63L234.28 325.35L234.68 327.06L235.06 328.77L235.44 330.48L235.8 332.2L236.13 333.83L236.43 335.4L236.72 336.92L236.99 338.42L237.26 339.92L237.53 341.43L237.8 342.98L238.09 344.59L238.4 346.28L238.73 348.06L239.1 349.96L239.5 352L240.38 356.28L241.45 361.38L242.68 367.11L244.02 373.28L245.42 379.7L246.84 386.19L248.23 392.54L249.55 398.56L250.75 404.07L251.79 408.88L252.62 412.78L253.2 415.6L253.31 416.15L253.4 416.63L253.48 417.06L253.55 417.44L253.62 417.79L253.67 418.12L253.73 418.42L253.78 418.72L253.83 419.02L253.88 419.33L253.94 419.65L254 420" stroke="#ee82ee" stroke-dasharray="4.6 2.05"/>
<path d="M96.3 256.4L100.46 256.48L104.69 256.56L108.96 256.64L113.25 256.72L117.54 256.79L121.81 256.87L126.04 256.95L130.2 257.03L134.28 257.12L138.25 257.21L142.1 257.3L145.8 257.4L148.65 257.48L151.52 257.55L154.4 257.63L157.25 257.7L160.05 257.78L162.78 257.86L165.39 257.94L167.88 258.04L170.21 258.14L172.36 258.25L174.3 258.37L176 258.5L176.68 258.56L177.29 258.62L177.84 258.68L178.34 258.73L178.81 258.79L179.26 258.85L179.7 258.92L180.15 258.99L180.62 259.07L181.13 259.17L181.68 259.28L182.3 259.4L183.47 259.64L184.77 259.9L186.17 260.2L187.65 260.52L189.19 260.87L190.77 261.25L192.37 261.65L193.98 262.07L195.56 262.52L197.11 262.99L198.59 263.49L200 264L201.27 264.51L202.54 265.07L203.81 265.66L205.07 266.28L206.31 266.92L207.53 267.57L208.72 268.23L209.87 268.88L210.99 269.52L212.05 270.14L213.05 270.74L214 271.3L214.6 271.66L215.17 272L215.72 272.34L216.24 272.66L216.74 272.98L217.23 273.3L217.71 273.62L218.17 273.94L218.63 274.27L219.09 274.6L219.54 274.94L220 275.3L220.44 275.66L220.88 276.02L221.31 276.4L221.74 276.79L222.16 277.18L222.58 277.57L222.99 277.96L223.39 278.35L223.78 278.73L224.16 279.1L224.54 279.46L224.9 279.8L225.18 280.06L225.45 280.32L225.7 280.57L225.96 280.81L226.21 281.05L226.45 281.29L226.69 281.52L226.93 281.76L227.17 281.99L227.41 282.22L227.65 282.46L227.9 282.7L227.97 283.27L228.04 283.82L228.1 284.36L228.16 284.89L228.22 285.42L228.29 285.96L228.35 286.51L228.42 287.09L228.5 287.68L228.59 288.31L228.69 288.98L228.8 289.7L229.03 291.09L229.29 292.62L229.59 294.28L229.92 296.04L230.27 297.88L230.63 299.79L231.01 301.73L231.39 303.69L231.78 305.65L232.16 307.59L232.54 309.48L232.9 311.3L233.25 313.06L233.61 314.81L233.97 316.56L234.33 318.31L234.69 320.06L235.06 321.81L235.42 323.55L235.79 325.29L236.15 327.02L236.5 328.75L236.85 330.48L237.2 332.2L237.52 333.83L237.83 335.4L238.12 336.92L238.41 338.42L238.7 339.92L238.98 341.43L239.28 342.98L239.58 344.59L239.9 346.27L240.24 348.06L240.61 349.96L241 352L241.83 356.27L242.82 361.37L243.94 367.1L245.15 373.28L246.41 379.7L247.68 386.18L248.92 392.53L250.1 398.56L251.17 404.07L252.11 408.88L252.86 412.78L253.4 415.6L253.5 416.15L253.59 416.63L253.67 417.06L253.74 417.45L253.81 417.8L253.86 418.12L253.92 418.43L253.97 418.72L254.02 419.02L254.08 419.33L254.14 419.65L254.2 420" stroke="#ffa500"/>
<path d="M82.4 254L85.16 254.01L87.98 254.03L90.85 254.05L93.75 254.09L96.64 254.12L99.51 254.15L102.34 254.16L105.09 254.17L107.76 254.16L110.32 254.13L112.74 254.08L115 254L116.42 253.92L117.76 253.83L119.04 253.71L120.27 253.59L121.46 253.45L122.61 253.32L123.76 253.18L124.89 253.06L126.03 252.94L127.19 252.84L128.37 252.76L129.6 252.7L130.9 252.67L132.19 252.65L133.47 252.66L134.75 252.68L136.03 252.72L137.33 252.76L138.65 252.81L140 252.86L141.38 252.9L142.8 252.94L144.27 252.98L145.8 253L148.01 253.01L150.37 253L152.84 252.98L155.41 252.94L158.04 252.91L160.71 252.88L163.39 252.85L166.05 252.84L168.67 252.84L171.22 252.86L173.67 252.92L176 253L177.82 253.09L179.62 253.18L181.38 253.29L183.11 253.41L184.82 253.54L186.49 253.68L188.14 253.83L189.76 254L191.36 254.18L192.93 254.37L194.48 254.58L196 254.8L197.27 255L198.52 255.22L199.75 255.45L200.97 255.69L202.16 255.94L203.34 256.2L204.5 256.46L205.64 256.73L206.76 257L207.86 257.27L208.94 257.54L210 257.8L210.87 258.01L211.72 258.22L212.56 258.43L213.39 258.63L214.2 258.84L215 259.05L215.79 259.26L216.56 259.49L217.32 259.72L218.06 259.96L218.79 260.22L219.5 260.5L220.1 260.75L220.68 261.02L221.25 261.3L221.8 261.59L222.34 261.88L222.87 262.18L223.4 262.48L223.92 262.79L224.44 263.1L224.96 263.4L225.48 263.7L226 264L226.5 264.28L227 264.56L227.49 264.83L227.98 265.11L228.46 265.38L228.95 265.66L229.43 265.94L229.92 266.22L230.41 266.51L230.9 266.8L231.4 267.1L231.9 267.4L232.46 267.74L233.04 268.07L233.64 268.41L234.23 268.75L234.83 269.09L235.43 269.45L236.03 269.81L236.62 270.18L237.19 270.56L237.75 270.96L238.29 271.37L238.8 271.8L239.28 272.24L239.74 272.69L240.19 273.15L240.62 273.63L241.04 274.11L241.45 274.61L241.86 275.12L242.25 275.64L242.64 276.17L243.03 276.7L243.42 277.25L243.8 277.8L244.22 278.41L244.64 279.04L245.06 279.68L245.47 280.34L245.88 281L246.27 281.67L246.66 282.36L247.04 283.05L247.4 283.75L247.75 284.46L248.09 285.18L248.4 285.9L248.71 286.68L249 287.5L249.28 288.35L249.54 289.22L249.78 290.1L250.01 290.98L250.24 291.85L250.45 292.69L250.65 293.49L250.84 294.26L251.02 294.96L251.2 295.6L251.3 295.94L251.4 296.24L251.49 296.52L251.59 296.78L251.67 297.03L251.76 297.27L251.84 297.51L251.92 297.77L251.99 298.03L252.06 298.32L252.13 298.64L252.2 299L252.31 299.74L252.4 300.56L252.48 301.45L252.55 302.41L252.6 303.41L252.65 304.47L252.69 305.56L252.72 306.68L252.76 307.82L252.8 308.98L252.85 310.14L252.9 311.3L252.98 312.84L253.05 314.44L253.13 316.11L253.21 317.82L253.29 319.56L253.37 321.34L253.45 323.13L253.52 324.93L253.6 326.72L253.67 328.51L253.74 330.27L253.8 332L253.86 333.64L253.91 335.22L253.96 336.75L254 338.25L254.05 339.76L254.09 341.28L254.13 342.84L254.18 344.47L254.22 346.17L254.28 347.98L254.33 349.92L254.4 352L254.54 356.25L254.69 361L254.87 366.16L255.05 371.68L255.25 377.47L255.45 383.48L255.66 389.62L255.88 395.84L256.09 402.05L256.3 408.2L256.5 414.2L256.7 420" stroke="#d2691e" stroke-dasharray="4.6 2.05"/>
<path d="M102.4 249.5L106.04 249.57L109.72 249.63L113.43 249.69L117.16 249.74L120.88 249.8L124.59 249.86L128.28 249.92L131.92 249.99L135.5 250.07L139.02 250.16L142.46 250.27L145.8 250.4L148.52 250.52L151.19 250.64L153.82 250.77L156.4 250.9L158.95 251.05L161.46 251.2L163.95 251.35L166.4 251.52L168.83 251.7L171.23 251.89L173.62 252.09L176 252.3L178.11 252.49L180.2 252.68L182.27 252.86L184.32 253.05L186.35 253.25L188.36 253.46L190.35 253.68L192.32 253.93L194.27 254.2L196.2 254.5L198.11 254.83L200 255.2L201.73 255.57L203.48 255.98L205.22 256.41L206.96 256.87L208.68 257.35L210.37 257.84L212.03 258.35L213.65 258.87L215.21 259.4L216.71 259.93L218.15 260.47L219.5 261L220.43 261.38L221.31 261.75L222.17 262.12L222.99 262.49L223.78 262.86L224.55 263.24L225.3 263.63L226.04 264.04L226.76 264.47L227.48 264.92L228.19 265.39L228.9 265.9L229.63 266.45L230.34 267.03L231.04 267.64L231.73 268.27L232.41 268.93L233.07 269.59L233.73 270.28L234.37 270.97L234.99 271.67L235.61 272.38L236.21 273.09L236.8 273.8L237.37 274.52L237.93 275.27L238.49 276.05L239.04 276.84L239.57 277.65L240.09 278.45L240.6 279.24L241.08 280.01L241.55 280.75L241.99 281.45L242.41 282.11L242.8 282.7L243.02 283.02L243.23 283.32L243.44 283.59L243.63 283.85L243.81 284.09L243.99 284.33L244.17 284.57L244.33 284.82L244.5 285.08L244.67 285.36L244.83 285.66L245 286L245.25 286.56L245.48 287.17L245.71 287.82L245.93 288.52L246.14 289.24L246.35 289.98L246.56 290.74L246.76 291.51L246.97 292.27L247.18 293.03L247.39 293.78L247.6 294.5L247.72 295.89L247.83 297.28L247.95 298.66L248.07 300.03L248.19 301.41L248.31 302.78L248.43 304.17L248.54 305.56L248.66 306.97L248.77 308.39L248.89 309.84L249 311.3L249.12 312.96L249.25 314.66L249.37 316.38L249.49 318.12L249.61 319.87L249.73 321.64L249.85 323.42L249.97 325.19L250.08 326.96L250.19 328.72L250.3 330.47L250.4 332.2L250.49 333.83L250.57 335.39L250.64 336.91L250.71 338.4L250.78 339.89L250.84 341.39L250.91 342.94L250.98 344.54L251.07 346.23L251.16 348.02L251.27 349.94L251.4 352L251.68 356.24L252.02 360.98L252.41 366.14L252.84 371.66L253.29 377.45L253.77 383.46L254.26 389.61L254.77 395.83L255.27 402.05L255.76 408.2L256.24 414.2L256.7 420" stroke="#4b0082"/>
<path d="M56.2 250.1L59.85 250.16L63.49 250.21L67.13 250.25L70.76 250.3L74.4 250.35L78.04 250.4L81.68 250.45L85.33 250.5L88.98 250.56L92.64 250.63L96.32 250.71L100 250.8L103.81 250.9L107.69 251L111.6 251.11L115.54 251.23L119.49 251.36L123.43 251.48L127.34 251.62L131.2 251.76L135 251.91L138.71 252.07L142.31 252.23L145.8 252.4L148.56 252.54L151.27 252.67L153.94 252.79L156.57 252.92L159.15 253.06L161.69 253.2L164.19 253.35L166.64 253.52L169.05 253.7L171.41 253.91L173.73 254.14L176 254.4L177.87 254.64L179.76 254.92L181.66 255.22L183.55 255.54L185.41 255.87L187.23 256.21L188.97 256.55L190.63 256.88L192.18 257.19L193.6 257.49L194.88 257.76L196 258L196.43 258.09L196.82 258.18L197.16 258.26L197.47 258.34L197.76 258.41L198.04 258.49L198.32 258.56L198.6 258.64L198.9 258.72L199.23 258.8L199.59 258.9L200 259L200.88 259.21L201.87 259.45L202.97 259.7L204.14 259.97L205.37 260.25L206.64 260.55L207.93 260.85L209.22 261.17L210.49 261.5L211.72 261.83L212.9 262.16L214 262.5L214.9 262.78L215.77 263.06L216.63 263.33L217.48 263.61L218.31 263.89L219.13 264.18L219.94 264.48L220.74 264.81L221.53 265.16L222.32 265.54L223.11 265.95L223.9 266.4L224.78 266.95L225.66 267.55L226.55 268.19L227.43 268.88L228.31 269.59L229.18 270.32L230.02 271.07L230.85 271.83L231.64 272.59L232.4 273.34L233.12 274.08L233.8 274.8L234.31 275.37L234.8 275.95L235.26 276.52L235.69 277.1L236.11 277.68L236.51 278.26L236.9 278.83L237.28 279.41L237.66 279.99L238.04 280.56L238.41 281.13L238.8 281.7L239.17 282.23L239.53 282.77L239.89 283.3L240.25 283.83L240.61 284.37L240.96 284.9L241.3 285.42L241.64 285.95L241.97 286.47L242.29 286.98L242.6 287.5L242.9 288L243.15 288.43L243.39 288.86L243.62 289.29L243.85 289.72L244.06 290.14L244.28 290.56L244.49 290.98L244.69 291.39L244.9 291.8L245.1 292.2L245.3 292.6L245.5 293L245.68 293.35L245.85 293.69L246.02 294.03L246.19 294.37L246.35 294.7L246.52 295.03L246.68 295.35L246.84 295.68L247.01 296.01L247.17 296.34L247.33 296.67L247.5 297L247.63 298.18L247.75 299.35L247.88 300.51L248.01 301.67L248.14 302.82L248.27 303.98L248.4 305.15L248.52 306.33L248.65 307.53L248.77 308.76L248.89 310.01L249 311.3L249.13 312.9L249.26 314.56L249.39 316.26L249.51 317.99L249.63 319.75L249.75 321.54L249.87 323.33L249.98 325.13L250.09 326.92L250.19 328.7L250.3 330.47L250.4 332.2L250.49 333.83L250.57 335.39L250.64 336.91L250.71 338.4L250.78 339.89L250.84 341.39L250.91 342.94L250.98 344.54L251.07 346.23L251.16 348.02L251.27 349.94L251.4 352L251.68 356.24L252.02 360.98L252.41 366.14L252.84 371.66L253.29 377.45L253.77 383.46L254.26 389.61L254.77 395.83L255.27 402.05L255.76 408.2L256.24 414.2L256.7 420" stroke="#808000" stroke-dasharray="4.6 2.05"/>
<path d="M117.6 249.6L119.95 249.61L122.29 249.63L124.63 249.64L126.96 249.65L129.3 249.65L131.64 249.66L133.98 249.68L136.33 249.69L138.68 249.71L141.04 249.73L143.42 249.76L145.8 249.8L148.35 249.85L151.03 249.9L153.81 249.97L156.62 250.04L159.45 250.12L162.24 250.19L164.96 250.27L167.56 250.35L170.01 250.42L172.26 250.49L174.27 250.55L176 250.6L176.68 250.62L177.29 250.63L177.83 250.64L178.33 250.64L178.8 250.65L179.25 250.65L179.69 250.66L180.14 250.68L180.61 250.69L181.12 250.72L181.68 250.75L182.3 250.8L183.48 250.9L184.79 251.03L186.22 251.17L187.73 251.34L189.3 251.53L190.91 251.72L192.54 251.93L194.15 252.14L195.72 252.36L197.24 252.58L198.68 252.79L200 253L200.94 253.15L201.84 253.31L202.71 253.46L203.56 253.62L204.39 253.78L205.2 253.94L206 254.11L206.8 254.27L207.59 254.45L208.39 254.63L209.19 254.81L210 255L210.8 255.19L211.61 255.37L212.41 255.56L213.21 255.75L214 255.94L214.8 256.14L215.59 256.34L216.38 256.56L217.16 256.79L217.94 257.04L218.72 257.31L219.5 257.6L220.3 257.93L221.11 258.28L221.91 258.67L222.71 259.07L223.51 259.48L224.31 259.91L225.1 260.34L225.88 260.77L226.65 261.2L227.41 261.62L228.16 262.02L228.9 262.4L229.53 262.72L230.16 263.03L230.78 263.34L231.4 263.64L232 263.95L232.61 264.24L233.2 264.54L233.78 264.83L234.35 265.12L234.92 265.42L235.46 265.71L236 266L236.44 266.24L236.88 266.48L237.31 266.71L237.73 266.95L238.14 267.18L238.55 267.41L238.95 267.64L239.34 267.88L239.72 268.12L240.09 268.37L240.45 268.63L240.8 268.9L241.11 269.15L241.4 269.41L241.69 269.67L241.96 269.94L242.23 270.21L242.5 270.49L242.76 270.77L243.01 271.05L243.26 271.34L243.51 271.62L243.75 271.91L244 272.2L244.24 272.48L244.47 272.76L244.7 273.03L244.92 273.3L245.14 273.58L245.36 273.86L245.58 274.15L245.8 274.45L246.02 274.76L246.24 275.09L246.47 275.43L246.7 275.8L247.06 276.39L247.44 277.03L247.84 277.71L248.24 278.43L248.65 279.18L249.06 279.95L249.46 280.73L249.85 281.53L250.22 282.33L250.58 283.13L250.9 283.92L251.2 284.7L251.46 285.45L251.71 286.18L251.93 286.91L252.14 287.65L252.33 288.38L252.51 289.12L252.67 289.88L252.83 290.65L252.98 291.45L253.12 292.27L253.26 293.12L253.4 294L253.57 295.24L253.72 296.55L253.85 297.9L253.97 299.3L254.07 300.74L254.16 302.2L254.24 303.7L254.31 305.21L254.39 306.73L254.45 308.26L254.53 309.78L254.6 311.3L254.68 312.97L254.76 314.67L254.83 316.4L254.89 318.14L254.95 319.9L255.01 321.66L255.06 323.43L255.11 325.2L255.16 326.97L255.21 328.73L255.25 330.47L255.3 332.2L255.34 333.83L255.38 335.39L255.42 336.91L255.45 338.4L255.48 339.89L255.51 341.39L255.54 342.94L255.57 344.54L255.6 346.23L255.63 348.02L255.66 349.94L255.7 352L255.77 356.24L255.85 360.98L255.93 366.14L256.01 371.65L256.09 377.45L256.18 383.46L256.27 389.61L256.35 395.83L256.44 402.05L256.53 408.2L256.62 414.2L256.7 420" stroke="#ff0000"/>
</g>
<rect x="37.6" y="274.95" width="64.6" height="137.0" rx="1.6" fill="#fff" fill-opacity="0.8" stroke="#d2d2d2" stroke-opacity="0.8" stroke-width="0.8"/>
<g font-size="8.05px" fill="#1a1a1a">
<path d="M40.1 281.45h17.2" stroke="#000000" stroke-width="1.6"/>
<text x="63.4" y="284.35">AFNet</text>
<path d="M40.1 293.66h17.2" stroke="#008000" stroke-width="1.6" stroke-dasharray="4.6 2.05"/>
<text x="63.4" y="296.56">C2DFNet</text>
<path d="M40.1 305.87h17.2" stroke="#0000ff" stroke-width="1.6"/>
<text x="63.4" y="308.77">CFIDNet</text>
<path d="M40.1 318.08h17.2" stroke="#00ffff" stroke-width="1.6" stroke-dasharray="4.6 2.05"/>
<text x="63.4" y="320.98">CIR-Net</text>
<path d="M40.1 330.29h17.2" stroke="#ffff00" stroke-width="1.6"/>
<text x="63.4" y="333.19">D3Net</text>
<path d="M40.1 342.5h17.2" stroke="#ee82ee" stroke-width="1.6" stroke-dasharray="4.6 2.05"/>
<text x="63.4" y="345.4">DASNet</text>
<path d="M40.1 354.71h17.2" stroke="#ffa500" stroke-width="1.6"/>
<text x="63.4" y="357.61">DCF</text>
<path d="M40.1 366.92h17.2" stroke="#d2691e" stroke-width="1.6" stroke-dasharray="4.6 2.05"/>
<text x="63.4" y="369.82">DCMF</text>
<path d="M40.1 379.13h17.2" stroke="#4b0082" stroke-width="1.6"/>
<text x="63.4" y="382.03">HINet</text>
<path d="M40.1 391.34h17.2" stroke="#808000" stroke-width="1.6" stroke-dasharray="4.6 2.05"/>
<text x="63.4" y="394.24">ICNet</text>
<path d="M40.1 403.55h17.2" stroke="#ff0000" stroke-width="1.6"/>
<text x="63.4" y="406.45">Ours</text>
</g>
<rect x="33.5" y="248.75" width="223.6" height="166.75" fill="none" stroke="#3a3a3a" stroke-width="0.75"/>
<path d="M33.5 415.5v2.4M70.77 415.5v2.4M108.03 415.5v2.4M145.3 415.5v2.4M182.57 415.5v2.4M219.83 415.5v2.4M257.1 415.5v2.4M33.5 248.75h-2.4M33.5 269.59h-2.4M33.5 290.44h-2.4M33.5 311.28h-2.4M33.5 332.12h-2.4M33.5 352.97h-2.4M33.5 373.81h-2.4M33.5 394.66h-2.4M33.5 415.5h-2.4" stroke="#3a3a3a" stroke-width="0.75" fill="none"/>
<g font-size="7.4px" fill="#1a1a1a">
<text x="33.2" y="426.1" text-anchor="middle">0.4</text>
<text x="70.47" y="426.1" text-anchor="middle">0.5</text>
<text x="107.73" y="426.1" text-anchor="middle">0.6</text>
<text x="145" y="426.1" text-anchor="middle">0.7</text>
<text x="182.27" y="426.1" text-anchor="middle">0.8</text>
<text x="219.53" y="426.1" text-anchor="middle">0.9</text>
<text x="256.8" y="426.1" text-anchor="middle">1.0</text>
<text x="28.6" y="252.05" text-anchor="end">1.0</text>
<text x="28.6" y="272.89" text-anchor="end">0.9</text>
<text x="28.6" y="293.74" text-anchor="end">0.8</text>
<text x="28.6" y="314.58" text-anchor="end">0.7</text>
<text x="28.6" y="335.43" text-anchor="end">0.6</text>
<text x="28.6" y="356.27" text-anchor="end">0.5</text>
<text x="28.6" y="377.11" text-anchor="end">0.4</text>
<text x="28.6" y="397.96" text-anchor="end">0.3</text>
<text x="28.6" y="418.8" text-anchor="end">0.2</text>
</g>
<text x="144.9" y="437.5" text-anchor="middle" font-size="9.6px" fill="#1a1a1a">Recall</text>
<text transform="translate(12.6 333.62) rotate(-90)" text-anchor="middle" font-size="9.6px" fill="#1a1a1a">Precision</text>
<text x="144.9" y="245.05" text-anchor="middle" font-size="11.2px" fill="#1a1a1a">DES</text>
<text class="cap" x="92.3" y="456.3" textLength="82.6" lengthAdjust="spacing">(<tspan font-weight="bold">c</tspan>) DES dataset</text>
</g>
<g class="panel" id="panel-d">
<clipPath id="clip-d"><rect x="315.4" y="248.9" width="223.1" height="166.55"/></clipPath>
<path d="M315.4 248.9V415.45M352.58 248.9V415.45M389.77 248.9V415.45M426.95 248.9V415.45M464.13 248.9V415.45M501.32 248.9V415.45M538.5 248.9V415.45M315.4 248.9H538.5M315.4 269.72H538.5M315.4 290.54H538.5M315.4 311.36H538.5M315.4 332.18H538.5M315.4 352.99H538.5M315.4 373.81H538.5M315.4 394.63H538.5M315.4 415.45H538.5" stroke="#a4a4a4" stroke-width="0.6" fill="none"/>
<g clip-path="url(#clip-d)" fill="none" stroke-width="1.6" stroke-linejoin="round">
<path d="M438.5 256.3L439.96 256.44L441.44 256.58L442.92 256.72L444.41 256.86L445.89 257L447.37 257.14L448.85 257.29L450.31 257.43L451.76 257.57L453.2 257.71L454.61 257.86L456 258L457.23 258.13L458.45 258.26L459.67 258.39L460.87 258.53L462.06 258.66L463.25 258.79L464.41 258.93L465.57 259.06L466.7 259.19L467.82 259.33L468.92 259.46L470 259.6L470.9 259.71L471.79 259.83L472.68 259.94L473.55 260.06L474.42 260.17L475.27 260.29L476.1 260.4L476.92 260.52L477.72 260.64L478.5 260.76L479.26 260.88L480 261L480.55 261.1L481.09 261.19L481.61 261.29L482.12 261.39L482.61 261.48L483.1 261.58L483.58 261.68L484.06 261.78L484.54 261.88L485.02 261.99L485.51 262.09L486 262.2L486.5 262.31L487.01 262.42L487.53 262.53L488.04 262.63L488.55 262.75L489.06 262.86L489.57 262.97L490.08 263.09L490.57 263.21L491.06 263.34L491.54 263.47L492 263.6L492.4 263.72L492.79 263.84L493.18 263.97L493.56 264.09L493.94 264.22L494.31 264.36L494.68 264.49L495.04 264.63L495.39 264.77L495.74 264.91L496.07 265.05L496.4 265.2L496.67 265.32L496.93 265.45L497.19 265.57L497.44 265.69L497.68 265.82L497.93 265.95L498.16 266.08L498.4 266.21L498.63 266.35L498.85 266.49L499.08 266.64L499.3 266.8L499.52 266.96L499.74 267.12L499.95 267.29L500.17 267.46L500.38 267.64L500.59 267.82L500.79 268.01L500.98 268.2L501.17 268.39L501.36 268.59L501.53 268.79L501.7 269L501.86 269.21L502 269.43L502.14 269.65L502.28 269.87L502.41 270.1L502.53 270.33L502.65 270.57L502.76 270.81L502.87 271.05L502.98 271.3L503.09 271.55L503.2 271.8L503.32 272.08L503.43 272.36L503.53 272.65L503.64 272.95L503.74 273.25L503.83 273.55L503.93 273.85L504.02 274.16L504.12 274.47L504.21 274.78L504.3 275.09L504.4 275.4L504.5 275.73L504.6 276.07L504.71 276.4L504.81 276.75L504.91 277.09L505 277.43L505.1 277.78L505.2 278.12L505.3 278.47L505.4 278.81L505.5 279.16L505.6 279.5L505.7 279.84L505.79 280.16L505.89 280.48L505.98 280.8L506.08 281.12L506.17 281.44L506.27 281.77L506.37 282.11L506.47 282.45L506.57 282.82L506.68 283.2L506.8 283.6L506.99 284.25L507.19 284.94L507.4 285.66L507.62 286.42L507.85 287.2L508.08 288.01L508.32 288.83L508.55 289.68L508.79 290.55L509.03 291.42L509.27 292.31L509.5 293.2L509.79 294.35L510.08 295.56L510.38 296.81L510.68 298.09L510.99 299.41L511.29 300.73L511.59 302.06L511.88 303.38L512.17 304.69L512.46 305.97L512.73 307.21L513 308.4L513.21 309.36L513.41 310.27L513.59 311.14L513.77 311.98L513.94 312.81L514.11 313.64L514.29 314.49L514.47 315.37L514.67 316.28L514.89 317.25L515.13 318.28L515.4 319.4L515.93 321.51L516.52 323.79L517.17 326.22L517.87 328.78L518.61 331.47L519.39 334.27L520.19 337.16L521.01 340.15L521.84 343.21L522.67 346.33L523.49 349.5L524.3 352.7L525.41 357.23L526.55 362L527.72 366.98L528.91 372.13L530.12 377.42L531.34 382.81L532.57 388.27L533.8 393.76L535.04 399.26L536.27 404.72L537.49 410.11L538.7 415.4" stroke="#000000"/>
<path d="M440 262L441.32 262.14L442.63 262.28L443.93 262.41L445.22 262.54L446.51 262.67L447.8 262.8L449.11 262.94L450.43 263.08L451.78 263.24L453.15 263.41L454.56 263.59L456 263.8L457.9 264.07L459.97 264.36L462.16 264.66L464.42 264.97L466.72 265.31L469.01 265.66L471.24 266.03L473.37 266.42L475.36 266.83L477.15 267.26L478.72 267.72L480 268.2L480.48 268.43L480.9 268.66L481.26 268.89L481.59 269.13L481.89 269.37L482.17 269.61L482.44 269.87L482.71 270.12L482.99 270.38L483.29 270.65L483.63 270.92L484 271.2L484.59 271.6L485.23 272.01L485.92 272.43L486.63 272.85L487.37 273.29L488.11 273.74L488.86 274.2L489.61 274.67L490.33 275.16L491.03 275.66L491.69 276.17L492.3 276.7L492.84 277.21L493.37 277.74L493.88 278.29L494.38 278.84L494.86 279.41L495.33 279.99L495.78 280.58L496.21 281.17L496.63 281.78L497.04 282.38L497.43 282.99L497.8 283.6L498.14 284.19L498.46 284.78L498.76 285.37L499.05 285.97L499.32 286.58L499.58 287.19L499.83 287.81L500.07 288.44L500.31 289.07L500.54 289.7L500.77 290.35L501 291L501.24 291.71L501.47 292.41L501.69 293.13L501.9 293.85L502.1 294.57L502.3 295.31L502.5 296.05L502.69 296.81L502.89 297.58L503.09 298.37L503.29 299.18L503.5 300L503.76 301.03L504 302.06L504.23 303.1L504.46 304.16L504.69 305.24L504.93 306.34L505.18 307.48L505.45 308.66L505.74 309.88L506.06 311.16L506.41 312.5L506.8 313.9L507.55 316.43L508.41 319.15L509.35 322.03L510.38 325.06L511.47 328.22L512.61 331.51L513.79 334.89L514.99 338.35L516.21 341.88L517.43 345.46L518.63 349.07L519.8 352.7L521.28 357.39L522.79 362.27L524.33 367.31L525.9 372.47L527.48 377.75L529.08 383.1L530.69 388.5L532.3 393.94L533.91 399.37L535.52 404.77L537.12 410.13L538.7 415.4" stroke="#008000" stroke-dasharray="4.6 2.05"/>
<path d="M368 256.9L369.77 256.93L371.52 256.96L373.24 256.98L374.95 257L376.67 257.02L378.39 257.05L380.13 257.07L381.9 257.1L383.72 257.14L385.58 257.18L387.51 257.24L389.5 257.3L392.25 257.39L395.14 257.48L398.15 257.58L401.26 257.68L404.43 257.8L407.65 257.93L410.89 258.07L414.12 258.23L417.32 258.41L420.47 258.61L423.54 258.84L426.5 259.1L429.09 259.35L431.66 259.6L434.2 259.87L436.72 260.14L439.21 260.44L441.69 260.75L444.13 261.09L446.55 261.45L448.95 261.84L451.33 262.26L453.68 262.71L456 263.2L458.17 263.69L460.41 264.24L462.69 264.82L464.98 265.44L467.26 266.08L469.48 266.74L471.62 267.4L473.64 268.06L475.52 268.71L477.23 269.34L478.73 269.94L480 270.5L480.47 270.73L480.88 270.95L481.25 271.17L481.58 271.38L481.88 271.58L482.16 271.79L482.44 272L482.71 272.22L483 272.44L483.3 272.68L483.63 272.93L484 273.2L484.6 273.62L485.24 274.08L485.92 274.56L486.63 275.06L487.36 275.58L488.1 276.12L488.85 276.66L489.58 277.22L490.31 277.77L491.01 278.32L491.67 278.87L492.3 279.4L492.82 279.85L493.33 280.3L493.82 280.74L494.31 281.19L494.78 281.63L495.25 282.08L495.7 282.53L496.14 282.99L496.57 283.47L496.99 283.96L497.4 284.47L497.8 285L498.21 285.59L498.61 286.2L499 286.83L499.36 287.47L499.72 288.13L500.07 288.8L500.41 289.48L500.73 290.17L501.06 290.87L501.37 291.57L501.69 292.29L502 293L502.33 293.78L502.64 294.58L502.95 295.38L503.24 296.2L503.53 297.02L503.81 297.85L504.09 298.7L504.36 299.55L504.64 300.4L504.92 301.26L505.21 302.13L505.5 303L505.82 303.94L506.14 304.86L506.45 305.76L506.76 306.66L507.07 307.58L507.39 308.5L507.71 309.46L508.04 310.45L508.38 311.5L508.74 312.59L509.11 313.76L509.5 315L510.23 317.37L511.01 319.95L511.83 322.72L512.69 325.65L513.59 328.73L514.51 331.93L515.47 335.25L516.44 338.64L517.44 342.11L518.45 345.62L519.47 349.16L520.5 352.7L521.86 357.37L523.27 362.23L524.73 367.26L526.23 372.42L527.76 377.7L529.32 383.06L530.89 388.47L532.47 393.91L534.04 399.35L535.61 404.77L537.17 410.12L538.7 415.4" stroke="#0000ff"/>
<path d="M315 255.5L318.14 255.53L321.27 255.56L324.41 255.59L327.54 255.61L330.67 255.64L333.8 255.66L336.94 255.69L340.08 255.72L343.22 255.76L346.37 255.8L349.53 255.85L352.7 255.9L355.95 255.96L359.23 256.01L362.53 256.07L365.84 256.13L369.15 256.19L372.46 256.26L375.77 256.34L379.06 256.43L382.34 256.52L385.59 256.63L388.81 256.76L392 256.9L394.96 257.04L397.91 257.19L400.85 257.35L403.77 257.51L406.68 257.68L409.57 257.87L412.44 258.06L415.29 258.28L418.13 258.5L420.94 258.75L423.73 259.01L426.5 259.3L429.06 259.57L431.6 259.84L434.13 260.12L436.65 260.4L439.15 260.7L441.63 261.01L444.09 261.35L446.53 261.72L448.94 262.13L451.32 262.57L453.68 263.06L456 263.6L458.18 264.16L460.42 264.78L462.71 265.45L465 266.17L467.27 266.91L469.49 267.68L471.63 268.45L473.65 269.21L475.53 269.96L477.24 270.68L478.74 271.37L480 272L480.47 272.26L480.89 272.51L481.26 272.75L481.59 272.98L481.89 273.21L482.17 273.44L482.45 273.67L482.72 273.91L483 274.16L483.3 274.42L483.63 274.7L484 275L484.6 275.47L485.24 275.95L485.92 276.46L486.63 277L487.36 277.55L488.1 278.12L488.84 278.72L489.58 279.33L490.3 279.97L491 280.63L491.67 281.3L492.3 282L492.95 282.79L493.58 283.62L494.19 284.48L494.78 285.37L495.35 286.29L495.91 287.22L496.45 288.17L496.98 289.13L497.5 290.1L498.01 291.07L498.51 292.04L499 293L499.48 293.97L499.94 294.95L500.39 295.94L500.83 296.95L501.25 297.95L501.66 298.97L502.06 299.98L502.46 301L502.85 302.01L503.23 303.01L503.62 304.01L504 305L504.35 305.91L504.69 306.78L505.01 307.62L505.32 308.45L505.62 309.28L505.93 310.11L506.24 310.97L506.56 311.86L506.89 312.8L507.23 313.79L507.6 314.86L508 316L508.78 318.27L509.62 320.75L510.52 323.43L511.47 326.27L512.46 329.26L513.49 332.38L514.55 335.61L515.62 338.93L516.71 342.32L517.81 345.76L518.91 349.22L520 352.7L521.44 357.33L522.92 362.17L524.43 367.19L525.98 372.35L527.54 377.63L529.13 382.99L530.73 388.42L532.34 393.87L533.94 399.33L535.54 404.75L537.13 410.12L538.7 415.4" stroke="#00ffff" stroke-dasharray="4.6 2.05"/>
<path d="M315 257.9L318.14 257.91L321.27 257.91L324.41 257.92L327.54 257.92L330.67 257.92L333.8 257.93L336.94 257.93L340.08 257.94L343.22 257.95L346.37 257.96L349.53 257.98L352.7 258L355.95 258.02L359.23 258.04L362.53 258.06L365.84 258.07L369.15 258.09L372.46 258.12L375.77 258.15L379.06 258.19L382.34 258.25L385.59 258.31L388.81 258.4L392 258.5L394.96 258.6L397.92 258.71L400.85 258.81L403.78 258.93L406.68 259.05L409.57 259.19L412.45 259.34L415.3 259.52L418.13 259.72L420.94 259.95L423.73 260.21L426.5 260.5L429.06 260.8L431.6 261.12L434.13 261.46L436.65 261.82L439.14 262.2L441.62 262.6L444.08 263.03L446.52 263.48L448.93 263.95L451.31 264.44L453.67 264.96L456 265.5L458.17 266.03L460.41 266.6L462.69 267.2L464.99 267.83L467.26 268.48L469.48 269.14L471.62 269.81L473.65 270.48L475.53 271.13L477.24 271.78L478.74 272.4L480 273L480.47 273.25L480.89 273.5L481.26 273.73L481.59 273.96L481.89 274.2L482.17 274.43L482.45 274.66L482.72 274.91L483 275.16L483.3 275.42L483.63 275.7L484 276L484.59 276.46L485.22 276.95L485.88 277.46L486.56 277.99L487.26 278.54L487.98 279.11L488.71 279.7L489.44 280.31L490.17 280.94L490.89 281.58L491.61 282.23L492.3 282.9L493.11 283.7L493.94 284.54L494.78 285.4L495.63 286.3L496.48 287.21L497.31 288.15L498.14 289.09L498.93 290.05L499.69 291.02L500.41 291.98L501.09 292.94L501.7 293.9L502.19 294.74L502.63 295.58L503.03 296.43L503.4 297.28L503.75 298.14L504.07 299L504.38 299.87L504.69 300.74L505 301.62L505.32 302.5L505.65 303.4L506 304.3L506.4 305.27L506.79 306.22L507.19 307.16L507.59 308.1L507.98 309.04L508.38 310L508.79 310.99L509.2 312.02L509.61 313.1L510.03 314.23L510.46 315.42L510.9 316.7L511.65 319L512.41 321.48L513.19 324.13L513.99 326.92L514.8 329.85L515.62 332.89L516.47 336.03L517.33 339.26L518.22 342.56L519.12 345.91L520.05 349.29L521 352.7L522.3 357.32L523.66 362.15L525.08 367.16L526.53 372.32L528.02 377.6L529.54 382.97L531.07 388.4L532.62 393.86L534.16 399.32L535.69 404.75L537.21 410.12L538.7 415.4" stroke="#ffff00"/>
<path d="M470 264.5L470.85 264.65L471.72 264.79L472.61 264.94L473.5 265.08L474.4 265.23L475.29 265.37L476.16 265.52L477.01 265.67L477.83 265.82L478.6 265.97L479.33 266.13L480 266.3L480.39 266.41L480.75 266.51L481.07 266.6L481.37 266.7L481.66 266.8L481.95 266.9L482.24 267.01L482.53 267.12L482.85 267.25L483.2 267.38L483.58 267.53L484 267.7L485.07 268.1L486.36 268.55L487.81 269.05L489.4 269.6L491.07 270.19L492.78 270.83L494.5 271.5L496.18 272.2L497.78 272.94L499.26 273.7L500.58 274.49L501.7 275.3L502.38 275.91L503 276.54L503.55 277.19L504.05 277.86L504.52 278.55L504.94 279.25L505.35 279.96L505.75 280.69L506.14 281.41L506.54 282.14L506.96 282.87L507.4 283.6L507.89 284.36L508.38 285.13L508.87 285.89L509.36 286.67L509.85 287.44L510.33 288.23L510.81 289.03L511.28 289.83L511.73 290.65L512.17 291.48L512.6 292.33L513 293.2L513.42 294.16L513.82 295.15L514.2 296.16L514.56 297.18L514.92 298.22L515.25 299.27L515.58 300.33L515.9 301.4L516.21 302.47L516.51 303.55L516.81 304.63L517.1 305.7L517.39 306.79L517.66 307.87L517.91 308.93L518.15 309.98L518.38 311.05L518.6 312.12L518.83 313.23L519.06 314.36L519.29 315.53L519.54 316.76L519.81 318.05L520.1 319.4L520.58 321.63L521.1 323.98L521.64 326.45L522.21 329.03L522.79 331.71L523.4 334.48L524.01 337.34L524.64 340.28L525.28 343.29L525.92 346.37L526.56 349.51L527.2 352.7L528.09 357.23L529 362L529.93 366.98L530.88 372.13L531.85 377.42L532.82 382.81L533.8 388.27L534.79 393.77L535.78 399.26L536.76 404.72L537.74 410.11L538.7 415.4" stroke="#ee82ee" stroke-dasharray="4.6 2.05"/>
<path d="M377.5 255.5L378.48 255.53L379.42 255.56L380.35 255.59L381.26 255.62L382.17 255.65L383.09 255.67L384.03 255.7L385.01 255.74L386.04 255.77L387.12 255.81L388.27 255.85L389.5 255.9L391.89 255.99L394.54 256.08L397.42 256.18L400.49 256.28L403.7 256.39L407 256.51L410.36 256.65L413.73 256.8L417.08 256.96L420.35 257.15L423.5 257.36L426.5 257.6L429.09 257.83L431.66 258.06L434.2 258.3L436.71 258.56L439.21 258.83L441.68 259.12L444.12 259.43L446.54 259.75L448.94 260.1L451.32 260.47L453.67 260.87L456 261.3L458.16 261.73L460.4 262.22L462.67 262.74L464.96 263.29L467.23 263.86L469.45 264.44L471.58 265.02L473.61 265.58L475.5 266.12L477.21 266.63L478.72 267.09L480 267.5L480.45 267.65L480.86 267.79L481.22 267.92L481.55 268.04L481.85 268.16L482.14 268.28L482.42 268.39L482.7 268.52L482.99 268.65L483.3 268.78L483.63 268.93L484 269.1L484.6 269.36L485.24 269.65L485.92 269.94L486.64 270.26L487.37 270.59L488.11 270.93L488.85 271.28L489.59 271.65L490.32 272.02L491.01 272.41L491.68 272.8L492.3 273.2L492.83 273.57L493.35 273.94L493.86 274.33L494.36 274.72L494.84 275.12L495.31 275.53L495.77 275.95L496.21 276.37L496.64 276.8L497.05 277.23L497.43 277.66L497.8 278.1L498.1 278.48L498.37 278.87L498.63 279.26L498.87 279.66L499.1 280.06L499.31 280.47L499.53 280.87L499.73 281.28L499.94 281.69L500.15 282.09L500.37 282.5L500.6 282.9L500.82 283.76L501.04 284.61L501.25 285.47L501.46 286.33L501.67 287.18L501.88 288.04L502.09 288.89L502.31 289.75L502.54 290.61L502.78 291.47L503.03 292.33L503.3 293.2L503.6 294.11L503.91 295.01L504.23 295.92L504.57 296.82L504.91 297.72L505.26 298.62L505.62 299.54L505.98 300.46L506.34 301.39L506.69 302.34L507.05 303.31L507.4 304.3L507.8 305.45L508.19 306.61L508.58 307.77L508.97 308.93L509.36 310.12L509.76 311.32L510.16 312.56L510.56 313.83L510.98 315.15L511.4 316.51L511.84 317.92L512.3 319.4L513 321.68L513.72 324.07L514.47 326.56L515.24 329.14L516.03 331.81L516.83 334.57L517.66 337.41L518.5 340.33L519.36 343.32L520.23 346.39L521.11 349.51L522 352.7L523.25 357.23L524.55 362L525.9 366.98L527.27 372.13L528.68 377.42L530.1 382.81L531.54 388.27L532.99 393.77L534.43 399.26L535.87 404.72L537.3 410.11L538.7 415.4" stroke="#ffa500"/>
<path d="M356.4 263.2L359.45 263.04L362.63 262.87L365.9 262.7L369.21 262.52L372.52 262.35L375.79 262.18L378.97 262.01L382.02 261.85L384.89 261.69L387.54 261.55L389.92 261.42L392 261.3L392.85 261.25L393.61 261.19L394.29 261.14L394.92 261.08L395.5 261.03L396.07 260.98L396.63 260.94L397.2 260.9L397.81 260.86L398.46 260.83L399.19 260.81L400 260.8L401.66 260.8L403.51 260.83L405.51 260.88L407.64 260.95L409.88 261.04L412.2 261.15L414.58 261.28L416.99 261.41L419.42 261.55L421.82 261.7L424.19 261.85L426.5 262L428.91 262.16L431.36 262.33L433.84 262.5L436.34 262.69L438.84 262.88L441.35 263.08L443.86 263.3L446.35 263.52L448.81 263.77L451.25 264.03L453.65 264.3L456 264.6L458.16 264.89L460.39 265.2L462.66 265.53L464.95 265.88L467.22 266.24L469.44 266.61L471.58 266.98L473.61 267.35L475.5 267.73L477.21 268.09L478.72 268.45L480 268.8L480.45 268.94L480.85 269.07L481.19 269.19L481.5 269.32L481.78 269.44L482.05 269.56L482.32 269.69L482.6 269.83L482.89 269.98L483.21 270.14L483.58 270.31L484 270.5L485.07 270.96L486.36 271.48L487.83 272.07L489.42 272.7L491.1 273.38L492.82 274.09L494.54 274.84L496.23 275.61L497.83 276.4L499.3 277.2L500.61 278L501.7 278.8L502.31 279.33L502.86 279.86L503.35 280.4L503.8 280.95L504.22 281.51L504.6 282.07L504.97 282.64L505.32 283.23L505.67 283.82L506.03 284.43L506.4 285.06L506.8 285.7L507.28 286.47L507.76 287.27L508.24 288.09L508.72 288.93L509.2 289.79L509.67 290.66L510.13 291.54L510.59 292.43L511.04 293.32L511.47 294.22L511.89 295.11L512.3 296L512.69 296.89L513.08 297.78L513.45 298.68L513.81 299.59L514.16 300.49L514.5 301.4L514.84 302.32L515.16 303.25L515.48 304.17L515.79 305.11L516.1 306.05L516.4 307L516.7 307.98L516.99 308.94L517.25 309.89L517.51 310.84L517.76 311.79L518.01 312.76L518.25 313.76L518.5 314.78L518.75 315.85L519.02 316.97L519.3 318.15L519.6 319.4L520.12 321.57L520.67 323.89L521.24 326.34L521.83 328.91L522.44 331.59L523.07 334.37L523.71 337.25L524.36 340.21L525.02 343.25L525.68 346.35L526.34 349.5L527 352.7L527.91 357.23L528.84 362L529.8 366.98L530.76 372.13L531.75 377.42L532.74 382.81L533.73 388.27L534.73 393.77L535.73 399.26L536.73 404.72L537.72 410.11L538.7 415.4" stroke="#d2691e" stroke-dasharray="4.6 2.05"/>
<path d="M356.4 258.4L359.15 258.43L361.9 258.44L364.63 258.46L367.37 258.46L370.1 258.47L372.84 258.48L375.58 258.5L378.33 258.53L381.1 258.57L383.88 258.62L386.68 258.7L389.5 258.8L392.53 258.92L395.6 259.06L398.71 259.2L401.85 259.36L405 259.53L408.15 259.71L411.29 259.92L414.42 260.15L417.51 260.4L420.56 260.67L423.56 260.97L426.5 261.3L429.09 261.61L431.66 261.93L434.21 262.26L436.73 262.6L439.23 262.96L441.7 263.34L444.15 263.75L446.57 264.19L448.97 264.66L451.34 265.16L453.68 265.71L456 266.3L458.18 266.9L460.42 267.57L462.71 268.29L465 269.05L467.27 269.84L469.49 270.64L471.63 271.45L473.65 272.24L475.53 273.02L477.23 273.76L478.73 274.46L480 275.1L480.47 275.36L480.88 275.6L481.25 275.83L481.59 276.05L481.89 276.26L482.18 276.48L482.45 276.7L482.73 276.93L483.01 277.17L483.31 277.42L483.64 277.7L484 278L484.6 278.5L485.25 279.03L485.92 279.6L486.63 280.19L487.35 280.82L488.09 281.47L488.82 282.14L489.56 282.83L490.28 283.53L490.98 284.25L491.66 284.97L492.3 285.7L492.94 286.47L493.57 287.27L494.19 288.08L494.79 288.91L495.39 289.75L495.96 290.61L496.53 291.48L497.09 292.37L497.63 293.26L498.16 294.17L498.69 295.08L499.2 296L499.72 296.98L500.24 298L500.73 299.04L501.22 300.1L501.69 301.17L502.15 302.25L502.6 303.32L503.04 304.38L503.47 305.43L503.89 306.45L504.3 307.45L504.7 308.4L505.01 309.13L505.31 309.81L505.58 310.45L505.85 311.06L506.11 311.67L506.37 312.27L506.63 312.89L506.9 313.54L507.17 314.24L507.46 314.98L507.77 315.8L508.1 316.7L508.84 318.78L509.63 321.11L510.49 323.67L511.39 326.44L512.33 329.38L513.31 332.48L514.32 335.7L515.35 339.01L516.4 342.4L517.46 345.82L518.53 349.27L519.6 352.7L521.03 357.32L522.52 362.14L524.06 367.15L525.63 372.31L527.24 377.59L528.87 382.96L530.51 388.39L532.17 393.86L533.82 399.32L535.46 404.75L537.09 410.12L538.7 415.4" stroke="#4b0082"/>
<path d="M320 260.5L326.08 260.68L332.3 260.85L338.61 261.02L344.97 261.19L351.33 261.36L357.64 261.53L363.86 261.7L369.94 261.88L375.84 262.07L381.52 262.27L386.92 262.48L392 262.7L395.32 262.86L398.51 263.01L401.58 263.15L404.54 263.3L407.41 263.45L410.21 263.61L412.96 263.78L415.68 263.96L418.37 264.16L421.06 264.38L423.76 264.63L426.5 264.9L429.05 265.17L431.6 265.46L434.13 265.75L436.64 266.06L439.14 266.38L441.61 266.72L444.07 267.08L446.51 267.46L448.92 267.86L451.31 268.28L453.67 268.73L456 269.2L458.16 269.66L460.4 270.17L462.68 270.7L464.97 271.26L467.25 271.83L469.47 272.42L471.61 273.01L473.63 273.59L475.52 274.17L477.23 274.74L478.73 275.28L480 275.8L480.47 276.01L480.88 276.21L481.25 276.4L481.58 276.58L481.89 276.76L482.18 276.94L482.46 277.13L482.73 277.33L483.02 277.54L483.32 277.77L483.64 278.02L484 278.3L484.61 278.77L485.25 279.29L485.93 279.85L486.64 280.44L487.36 281.07L488.09 281.73L488.83 282.41L489.56 283.11L490.28 283.82L490.98 284.54L491.66 285.27L492.3 286L492.94 286.77L493.58 287.57L494.19 288.38L494.8 289.21L495.39 290.06L495.97 290.92L496.54 291.79L497.1 292.68L497.64 293.57L498.17 294.48L498.69 295.39L499.2 296.3L499.71 297.26L500.2 298.26L500.68 299.27L501.15 300.31L501.6 301.35L502.04 302.4L502.47 303.44L502.89 304.48L503.3 305.5L503.71 306.5L504.1 307.47L504.5 308.4L504.81 309.13L505.11 309.8L505.4 310.44L505.67 311.05L505.94 311.66L506.21 312.27L506.48 312.89L506.76 313.54L507.04 314.23L507.34 314.98L507.66 315.8L508 316.7L508.75 318.77L509.56 321.11L510.42 323.67L511.33 326.44L512.28 329.38L513.27 332.48L514.29 335.7L515.33 339.01L516.38 342.4L517.45 345.82L518.53 349.27L519.6 352.7L521.04 357.32L522.53 362.14L524.07 367.15L525.64 372.31L527.25 377.59L528.88 382.96L530.52 388.39L532.17 393.86L533.82 399.32L535.47 404.75L537.09 410.12L538.7 415.4" stroke="#808000" stroke-dasharray="4.6 2.05"/>
<path d="M386.2 253.7L389.58 253.78L392.99 253.84L396.42 253.9L399.87 253.96L403.31 254.02L406.75 254.08L410.16 254.15L413.54 254.22L416.87 254.31L420.15 254.42L423.36 254.55L426.5 254.7L429.13 254.85L431.72 255.01L434.27 255.18L436.79 255.36L439.28 255.56L441.73 255.76L444.16 255.97L446.57 256.18L448.95 256.41L451.32 256.63L453.66 256.87L456 257.1L458.15 257.32L460.38 257.54L462.65 257.78L464.94 258.02L467.21 258.26L469.43 258.51L471.57 258.76L473.6 259.01L475.49 259.26L477.2 259.51L478.72 259.76L480 260L480.45 260.1L480.84 260.19L481.18 260.29L481.49 260.38L481.77 260.48L482.04 260.57L482.3 260.67L482.58 260.77L482.88 260.87L483.21 260.97L483.58 261.08L484 261.2L485.05 261.44L486.29 261.67L487.69 261.9L489.21 262.14L490.81 262.38L492.47 262.65L494.15 262.96L495.82 263.3L497.44 263.68L498.98 264.12L500.41 264.63L501.7 265.2L502.71 265.75L503.67 266.35L504.61 266.99L505.5 267.67L506.37 268.38L507.2 269.13L508.01 269.89L508.78 270.68L509.52 271.48L510.24 272.28L510.93 273.09L511.6 273.9L512.19 274.65L512.74 275.42L513.26 276.2L513.76 277L514.23 277.81L514.68 278.63L515.12 279.45L515.53 280.28L515.94 281.11L516.33 281.95L516.72 282.77L517.1 283.6L517.46 284.38L517.8 285.17L518.12 285.94L518.43 286.72L518.73 287.5L519.02 288.29L519.3 289.08L519.57 289.88L519.84 290.69L520.1 291.51L520.35 292.35L520.6 293.2L520.87 294.17L521.14 295.17L521.39 296.18L521.63 297.2L521.86 298.24L522.09 299.29L522.31 300.35L522.52 301.42L522.72 302.48L522.92 303.56L523.11 304.63L523.3 305.7L523.48 306.8L523.65 307.87L523.8 308.93L523.94 309.99L524.07 311.05L524.2 312.13L524.33 313.23L524.47 314.36L524.61 315.54L524.76 316.76L524.92 318.05L525.1 319.4L525.41 321.63L525.73 323.99L526.08 326.46L526.44 329.04L526.82 331.72L527.21 334.49L527.62 337.35L528.04 340.29L528.47 343.3L528.9 346.38L529.35 349.51L529.8 352.7L530.44 357.24L531.12 362.01L531.83 366.99L532.56 372.14L533.31 377.43L534.07 382.82L534.85 388.28L535.63 393.77L536.41 399.26L537.18 404.72L537.95 410.11L538.7 415.4" stroke="#ff0000"/>
</g>
<rect x="319.5" y="274.9" width="64.6" height="137.0" rx="1.6" fill="#fff" fill-opacity="0.8" stroke="#d2d2d2" stroke-opacity="0.8" stroke-width="0.8"/>
<g font-size="8.05px" fill="#1a1a1a">
<path d="M322 281.4h17.2" stroke="#000000" stroke-width="1.6"/>
<text x="345.3" y="284.3">AFNet</text>
<path d="M322 293.61h17.2" stroke="#008000" stroke-width="1.6" stroke-dasharray="4.6 2.05"/>
<text x="345.3" y="296.51">C2DFNet</text>
<path d="M322 305.82h17.2" stroke="#0000ff" stroke-width="1.6"/>
<text x="345.3" y="308.72">CFIDNet</text>
<path d="M322 318.03h17.2" stroke="#00ffff" stroke-width="1.6" stroke-dasharray="4.6 2.05"/>
<text x="345.3" y="320.93">CIR-Net</text>
<path d="M322 330.24h17.2" stroke="#ffff00" stroke-width="1.6"/>
<text x="345.3" y="333.14">D3Net</text>
<path d="M322 342.45h17.2" stroke="#ee82ee" stroke-width="1.6" stroke-dasharray="4.6 2.05"/>
<text x="345.3" y="345.35">DASNet</text>
<path d="M322 354.66h17.2" stroke="#ffa500" stroke-width="1.6"/>
<text x="345.3" y="357.56">DCF</text>
<path d="M322 366.87h17.2" stroke="#d2691e" stroke-width="1.6" stroke-dasharray="4.6 2.05"/>
<text x="345.3" y="369.77">DCMF</text>
<path d="M322 379.08h17.2" stroke="#4b0082" stroke-width="1.6"/>
<text x="345.3" y="381.98">HINet</text>
<path d="M322 391.29h17.2" stroke="#808000" stroke-width="1.6" stroke-dasharray="4.6 2.05"/>
<text x="345.3" y="394.19">ICNet</text>
<path d="M322 403.5h17.2" stroke="#ff0000" stroke-width="1.6"/>
<text x="345.3" y="406.4">Ours</text>
</g>
<rect x="315.4" y="248.9" width="223.1" height="166.55" fill="none" stroke="#3a3a3a" stroke-width="0.75"/>
<path d="M315.4 415.45v2.4M352.58 415.45v2.4M389.77 415.45v2.4M426.95 415.45v2.4M464.13 415.45v2.4M501.32 415.45v2.4M538.5 415.45v2.4M315.4 248.9h-2.4M315.4 269.72h-2.4M315.4 290.54h-2.4M315.4 311.36h-2.4M315.4 332.18h-2.4M315.4 352.99h-2.4M315.4 373.81h-2.4M315.4 394.63h-2.4M315.4 415.45h-2.4" stroke="#3a3a3a" stroke-width="0.75" fill="none"/>
<g font-size="7.4px" fill="#1a1a1a">
<text x="315.1" y="426.05" text-anchor="middle">0.4</text>
<text x="352.28" y="426.05" text-anchor="middle">0.5</text>
<text x="389.47" y="426.05" text-anchor="middle">0.6</text>
<text x="426.65" y="426.05" text-anchor="middle">0.7</text>
<text x="463.83" y="426.05" text-anchor="middle">0.8</text>
<text x="501.02" y="426.05" text-anchor="middle">0.9</text>
<text x="538.2" y="426.05" text-anchor="middle">1.0</text>
<text x="310.5" y="252.2" text-anchor="end">1.0</text>
<text x="310.5" y="273.02" text-anchor="end">0.9</text>
<text x="310.5" y="293.84" text-anchor="end">0.8</text>
<text x="310.5" y="314.66" text-anchor="end">0.7</text>
<text x="310.5" y="335.48" text-anchor="end">0.6</text>
<text x="310.5" y="356.29" text-anchor="end">0.5</text>
<text x="310.5" y="377.11" text-anchor="end">0.4</text>
<text x="310.5" y="397.93" text-anchor="end">0.3</text>
<text x="310.5" y="418.75" text-anchor="end">0.2</text>
</g>
<text x="426.55" y="437.45" text-anchor="middle" font-size="9.6px" fill="#1a1a1a">Recall</text>
<text transform="translate(294.5 333.68) rotate(-90)" text-anchor="middle" font-size="9.6px" fill="#1a1a1a">Precision</text>
<text x="426.55" y="245.2" text-anchor="middle" font-size="11.2px" fill="#1a1a1a">SIP</text>
<text class="cap" x="375.25" y="456.4" textLength="80.1" lengthAdjust="spacing">(<tspan font-weight="bold">d</tspan>) SIP dataset</text>
</g>
</svg></body></html>
